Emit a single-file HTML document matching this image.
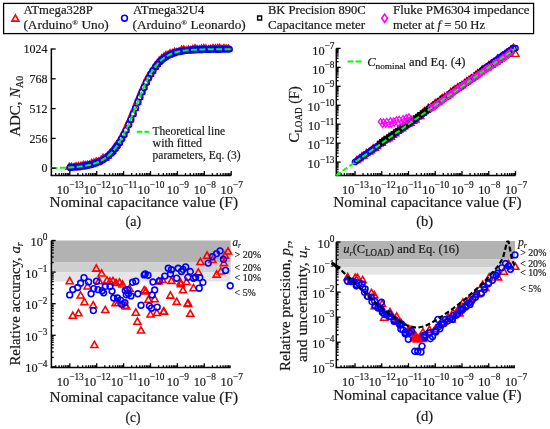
<!DOCTYPE html>
<html><head><meta charset="utf-8"><style>
html,body{margin:0;padding:0;background:#fff;}
svg{display:block;}
text{font-family:'Liberation Serif', serif;fill:#1a1a1a;stroke:#1a1a1a;stroke-width:0.2px;}
</style></head><body>
<svg width="550" height="429" viewBox="0 0 550 429">
<rect width="550" height="429" fill="#fff"/>
<rect x="3.6" y="3.4" width="530" height="30.2" fill="none" stroke="#000" stroke-width="1.3"/>
<path d="M15.4 14.88L18.9 21.08L11.9 21.08Z" fill="none" stroke="#f00" stroke-width="1.6"/>
<path d="M121.6 18.2a2.9 2.9 0 1 0 5.8 0a2.9 2.9 0 1 0 -5.8 0" fill="none" stroke="#00f" stroke-width="1.6"/>
<path d="M257.6 16h4v4h-4Z" fill="none" stroke="#000" stroke-width="1.4"/>
<path d="M384.6 14.1l2.95 4.1l-2.95 4.1l-2.95 -4.1Z" fill="none" stroke="#f0f" stroke-width="1.6"/>
<text x="23.4" y="14.3" font-size="12.2" textLength="69.4" lengthAdjust="spacingAndGlyphs">ATmega328P</text>
<text x="23.4" y="28.9" font-size="12.2" textLength="85.4" lengthAdjust="spacingAndGlyphs">(Arduino<tspan font-size="7" dy="-4.2" stroke-width="0.1">®</tspan><tspan dy="4.2"> Uno)</tspan></text>
<text x="132.9" y="14.3" font-size="12.2" textLength="71.4" lengthAdjust="spacingAndGlyphs">ATmega32U4</text>
<text x="132.6" y="28.9" font-size="12.2" textLength="113.2" lengthAdjust="spacingAndGlyphs">(Arduino<tspan font-size="7" dy="-4.2" stroke-width="0.1">®</tspan><tspan dy="4.2"> Leonardo)</tspan></text>
<text x="268" y="14.3" font-size="12.2" textLength="97.6" lengthAdjust="spacingAndGlyphs">BK Precision 890C</text>
<text x="268" y="28.9" font-size="12.2" textLength="97.2" lengthAdjust="spacingAndGlyphs">Capacitance meter</text>
<text x="393" y="14.3" font-size="12.2" textLength="136.6" lengthAdjust="spacingAndGlyphs">Fluke PM6304 impedance</text>
<text x="393" y="28.9" font-size="12.2" textLength="92.2" lengthAdjust="spacingAndGlyphs">meter at <tspan font-style="italic">f</tspan> = 50 Hz</text>
<line x1="51.35" y1="48.4" x2="51.35" y2="176" stroke="#000" stroke-width="1.5"/>
<line x1="51.35" y1="168.2" x2="55.65" y2="168.2" stroke="#000" stroke-width="1.3"/>
<text x="47.6" y="172.4" font-size="12" text-anchor="end">0</text>
<line x1="51.35" y1="138.4" x2="55.65" y2="138.4" stroke="#000" stroke-width="1.3"/>
<text x="47.6" y="142.6" font-size="12" text-anchor="end">256</text>
<line x1="51.35" y1="108.6" x2="55.65" y2="108.6" stroke="#000" stroke-width="1.3"/>
<text x="47.6" y="112.8" font-size="12" text-anchor="end">512</text>
<line x1="51.35" y1="78.8" x2="55.65" y2="78.8" stroke="#000" stroke-width="1.3"/>
<text x="47.6" y="83" font-size="12" text-anchor="end">768</text>
<line x1="51.35" y1="49" x2="55.65" y2="49" stroke="#000" stroke-width="1.3"/>
<text x="47.6" y="53.2" font-size="12" text-anchor="end">1024</text>
<line x1="50.75" y1="175.4" x2="231.2" y2="175.4" stroke="#000" stroke-width="1.5"/>
<line x1="55.73" y1="175.4" x2="55.73" y2="173.1" stroke="#000" stroke-width="1.3"/>
<line x1="59.1" y1="175.4" x2="59.1" y2="173.1" stroke="#000" stroke-width="1.3"/>
<line x1="61.7" y1="175.4" x2="61.7" y2="173.1" stroke="#000" stroke-width="1.3"/>
<line x1="63.83" y1="175.4" x2="63.83" y2="173.1" stroke="#000" stroke-width="1.3"/>
<line x1="65.63" y1="175.4" x2="65.63" y2="173.1" stroke="#000" stroke-width="1.3"/>
<line x1="67.19" y1="175.4" x2="67.19" y2="173.1" stroke="#000" stroke-width="1.3"/>
<line x1="68.57" y1="175.4" x2="68.57" y2="173.1" stroke="#000" stroke-width="1.3"/>
<line x1="69.8" y1="175.4" x2="69.8" y2="171.1" stroke="#000" stroke-width="1.3"/>
<line x1="77.9" y1="175.4" x2="77.9" y2="173.1" stroke="#000" stroke-width="1.3"/>
<line x1="82.63" y1="175.4" x2="82.63" y2="173.1" stroke="#000" stroke-width="1.3"/>
<line x1="86" y1="175.4" x2="86" y2="173.1" stroke="#000" stroke-width="1.3"/>
<line x1="88.6" y1="175.4" x2="88.6" y2="173.1" stroke="#000" stroke-width="1.3"/>
<line x1="90.73" y1="175.4" x2="90.73" y2="173.1" stroke="#000" stroke-width="1.3"/>
<line x1="92.53" y1="175.4" x2="92.53" y2="173.1" stroke="#000" stroke-width="1.3"/>
<line x1="94.09" y1="175.4" x2="94.09" y2="173.1" stroke="#000" stroke-width="1.3"/>
<line x1="95.47" y1="175.4" x2="95.47" y2="173.1" stroke="#000" stroke-width="1.3"/>
<line x1="96.7" y1="175.4" x2="96.7" y2="171.1" stroke="#000" stroke-width="1.3"/>
<line x1="104.8" y1="175.4" x2="104.8" y2="173.1" stroke="#000" stroke-width="1.3"/>
<line x1="109.53" y1="175.4" x2="109.53" y2="173.1" stroke="#000" stroke-width="1.3"/>
<line x1="112.9" y1="175.4" x2="112.9" y2="173.1" stroke="#000" stroke-width="1.3"/>
<line x1="115.5" y1="175.4" x2="115.5" y2="173.1" stroke="#000" stroke-width="1.3"/>
<line x1="117.63" y1="175.4" x2="117.63" y2="173.1" stroke="#000" stroke-width="1.3"/>
<line x1="119.43" y1="175.4" x2="119.43" y2="173.1" stroke="#000" stroke-width="1.3"/>
<line x1="120.99" y1="175.4" x2="120.99" y2="173.1" stroke="#000" stroke-width="1.3"/>
<line x1="122.37" y1="175.4" x2="122.37" y2="173.1" stroke="#000" stroke-width="1.3"/>
<line x1="123.6" y1="175.4" x2="123.6" y2="171.1" stroke="#000" stroke-width="1.3"/>
<line x1="131.7" y1="175.4" x2="131.7" y2="173.1" stroke="#000" stroke-width="1.3"/>
<line x1="136.43" y1="175.4" x2="136.43" y2="173.1" stroke="#000" stroke-width="1.3"/>
<line x1="139.8" y1="175.4" x2="139.8" y2="173.1" stroke="#000" stroke-width="1.3"/>
<line x1="142.4" y1="175.4" x2="142.4" y2="173.1" stroke="#000" stroke-width="1.3"/>
<line x1="144.53" y1="175.4" x2="144.53" y2="173.1" stroke="#000" stroke-width="1.3"/>
<line x1="146.33" y1="175.4" x2="146.33" y2="173.1" stroke="#000" stroke-width="1.3"/>
<line x1="147.89" y1="175.4" x2="147.89" y2="173.1" stroke="#000" stroke-width="1.3"/>
<line x1="149.27" y1="175.4" x2="149.27" y2="173.1" stroke="#000" stroke-width="1.3"/>
<line x1="150.5" y1="175.4" x2="150.5" y2="171.1" stroke="#000" stroke-width="1.3"/>
<line x1="158.6" y1="175.4" x2="158.6" y2="173.1" stroke="#000" stroke-width="1.3"/>
<line x1="163.33" y1="175.4" x2="163.33" y2="173.1" stroke="#000" stroke-width="1.3"/>
<line x1="166.7" y1="175.4" x2="166.7" y2="173.1" stroke="#000" stroke-width="1.3"/>
<line x1="169.3" y1="175.4" x2="169.3" y2="173.1" stroke="#000" stroke-width="1.3"/>
<line x1="171.43" y1="175.4" x2="171.43" y2="173.1" stroke="#000" stroke-width="1.3"/>
<line x1="173.23" y1="175.4" x2="173.23" y2="173.1" stroke="#000" stroke-width="1.3"/>
<line x1="174.79" y1="175.4" x2="174.79" y2="173.1" stroke="#000" stroke-width="1.3"/>
<line x1="176.17" y1="175.4" x2="176.17" y2="173.1" stroke="#000" stroke-width="1.3"/>
<line x1="177.4" y1="175.4" x2="177.4" y2="171.1" stroke="#000" stroke-width="1.3"/>
<line x1="185.5" y1="175.4" x2="185.5" y2="173.1" stroke="#000" stroke-width="1.3"/>
<line x1="190.23" y1="175.4" x2="190.23" y2="173.1" stroke="#000" stroke-width="1.3"/>
<line x1="193.6" y1="175.4" x2="193.6" y2="173.1" stroke="#000" stroke-width="1.3"/>
<line x1="196.2" y1="175.4" x2="196.2" y2="173.1" stroke="#000" stroke-width="1.3"/>
<line x1="198.33" y1="175.4" x2="198.33" y2="173.1" stroke="#000" stroke-width="1.3"/>
<line x1="200.13" y1="175.4" x2="200.13" y2="173.1" stroke="#000" stroke-width="1.3"/>
<line x1="201.69" y1="175.4" x2="201.69" y2="173.1" stroke="#000" stroke-width="1.3"/>
<line x1="203.07" y1="175.4" x2="203.07" y2="173.1" stroke="#000" stroke-width="1.3"/>
<line x1="204.3" y1="175.4" x2="204.3" y2="171.1" stroke="#000" stroke-width="1.3"/>
<line x1="212.4" y1="175.4" x2="212.4" y2="173.1" stroke="#000" stroke-width="1.3"/>
<line x1="217.13" y1="175.4" x2="217.13" y2="173.1" stroke="#000" stroke-width="1.3"/>
<line x1="220.5" y1="175.4" x2="220.5" y2="173.1" stroke="#000" stroke-width="1.3"/>
<line x1="223.1" y1="175.4" x2="223.1" y2="173.1" stroke="#000" stroke-width="1.3"/>
<line x1="225.23" y1="175.4" x2="225.23" y2="173.1" stroke="#000" stroke-width="1.3"/>
<line x1="227.03" y1="175.4" x2="227.03" y2="173.1" stroke="#000" stroke-width="1.3"/>
<line x1="228.59" y1="175.4" x2="228.59" y2="173.1" stroke="#000" stroke-width="1.3"/>
<line x1="229.97" y1="175.4" x2="229.97" y2="173.1" stroke="#000" stroke-width="1.3"/>
<line x1="231.2" y1="175.4" x2="231.2" y2="171.1" stroke="#000" stroke-width="1.3"/>
<text x="70.3" y="193.8" font-size="12.3" text-anchor="middle">10<tspan font-size="9.35" dy="-5.6">−13</tspan></text>
<text x="97.2" y="193.8" font-size="12.3" text-anchor="middle">10<tspan font-size="9.35" dy="-5.6">−12</tspan></text>
<text x="124.1" y="193.8" font-size="12.3" text-anchor="middle">10<tspan font-size="9.35" dy="-5.6">−11</tspan></text>
<text x="151" y="193.8" font-size="12.3" text-anchor="middle">10<tspan font-size="9.35" dy="-5.6">−10</tspan></text>
<text x="177.9" y="193.8" font-size="12.3" text-anchor="middle">10<tspan font-size="9.35" dy="-5.6">−9</tspan></text>
<text x="204.8" y="193.8" font-size="12.3" text-anchor="middle">10<tspan font-size="9.35" dy="-5.6">−8</tspan></text>
<text x="231.7" y="193.8" font-size="12.3" text-anchor="middle">10<tspan font-size="9.35" dy="-5.6">−7</tspan></text>
<path d="M69.3 162.99L72.8 169.19L65.8 169.19ZM71.43 163.02L74.93 169.22L67.93 169.22ZM74.04 163.37L77.54 169.57L70.54 169.57ZM76.17 162.5L79.67 168.7L72.67 168.7ZM78.51 162.32L82.01 168.52L75.01 168.52ZM80.9 162.15L84.4 168.35L77.4 168.35ZM83.25 161.21L86.75 167.41L79.75 167.41ZM85.2 161.37L88.7 167.57L81.7 167.57ZM87.38 161.12L90.88 167.32L83.88 167.32ZM89.43 160.89L92.93 167.09L85.93 167.09ZM91.69 159.24L95.19 165.44L88.19 165.44ZM93.88 158.87L97.38 165.07L90.38 165.07ZM96.2 157.7L99.7 163.9L92.7 163.9ZM98.33 157.87L101.83 164.07L94.83 164.07ZM100.94 156.38L104.44 162.58L97.44 162.58ZM103.07 154.15L106.57 160.35L99.57 160.35ZM105.41 153.95L108.91 160.15L101.91 160.15ZM107.8 152L111.3 158.2L104.3 158.2ZM110.15 149.36L113.65 155.56L106.65 155.56ZM112.1 147.23L115.6 153.43L108.6 153.43ZM114.28 143.93L117.78 150.13L110.78 150.13ZM116.33 140.97L119.83 147.17L112.83 147.17ZM118.59 138.31L122.09 144.51L115.09 144.51ZM120.78 133.94L124.28 140.14L117.28 140.14ZM123.1 129.83L126.6 136.03L119.6 136.03ZM125.23 125.6L128.73 131.8L121.73 131.8ZM127.84 119.58L131.34 125.78L124.34 125.78ZM129.97 115.28L133.47 121.48L126.47 121.48ZM132.31 109.55L135.81 115.75L128.81 115.75ZM134.7 104.2L138.2 110.4L131.2 110.4ZM137.05 97.84L140.55 104.04L133.55 104.04ZM139 93.19L142.5 99.39L135.5 99.39ZM141.18 87.74L144.68 93.94L137.68 93.94ZM143.23 83.26L146.73 89.46L139.73 89.46ZM145.49 78.04L148.99 84.24L141.99 84.24ZM147.68 73.39L151.18 79.59L144.18 79.59ZM150 70.26L153.5 76.46L146.5 76.46ZM152.13 66.78L155.63 72.98L148.63 72.98ZM154.74 62.82L158.24 69.02L151.24 69.02ZM156.87 59.98L160.37 66.18L153.37 66.18ZM159.21 56.88L162.71 63.08L155.71 63.08ZM161.6 54.58L165.1 60.78L158.1 60.78ZM163.95 52.88L167.45 59.08L160.45 59.08ZM165.9 51.28L169.4 57.48L162.4 57.48ZM168.08 51.12L171.58 57.32L164.58 57.32ZM170.13 49.61L173.63 55.81L166.63 55.81ZM172.39 49.39L175.89 55.59L168.89 55.59ZM174.58 47.99L178.08 54.19L171.08 54.19ZM176.9 48.22L180.4 54.42L173.4 54.42ZM179.03 47.58L182.53 53.78L175.53 53.78ZM181.64 45.83L185.14 52.03L178.14 52.03ZM183.77 45.83L187.27 52.03L180.27 52.03ZM186.11 46.6L189.61 52.8L182.61 52.8ZM188.5 45.7L192 51.9L185 51.9ZM190.85 46.28L194.35 52.48L187.35 52.48ZM192.8 45.27L196.3 51.47L189.3 51.47ZM194.98 44.67L198.48 50.87L191.48 50.87ZM197.03 45.41L200.53 51.61L193.53 51.61ZM199.29 45.55L202.79 51.75L195.79 51.75ZM201.48 44.71L204.98 50.91L197.98 50.91ZM203.8 44.38L207.3 50.58L200.3 50.58ZM205.93 44.71L209.43 50.91L202.43 50.91ZM208.54 45.61L212.04 51.81L205.04 51.81ZM210.67 45.27L214.17 51.47L207.17 51.47ZM213.01 44.28L216.51 50.48L209.51 50.48ZM215.4 44.46L218.9 50.66L211.9 50.66ZM217.75 44.22L221.25 50.42L214.25 50.42ZM219.7 44.15L223.2 50.35L216.2 50.35ZM221.88 45.24L225.38 51.44L218.38 51.44ZM223.93 44.3L227.43 50.5L220.43 50.5ZM226.19 44.87L229.69 51.07L222.69 51.07ZM228.38 44.7L231.88 50.9L224.88 50.9Z" fill="none" stroke="#f00" stroke-width="1.3"/>
<path d="M67.3 167.43a2.9 2.9 0 1 0 5.8 0a2.9 2.9 0 1 0 -5.8 0M69.43 167.3a2.9 2.9 0 1 0 5.8 0a2.9 2.9 0 1 0 -5.8 0M72.04 167.11a2.9 2.9 0 1 0 5.8 0a2.9 2.9 0 1 0 -5.8 0M74.17 166.92a2.9 2.9 0 1 0 5.8 0a2.9 2.9 0 1 0 -5.8 0M76.51 166.68a2.9 2.9 0 1 0 5.8 0a2.9 2.9 0 1 0 -5.8 0M78.9 166.39a2.9 2.9 0 1 0 5.8 0a2.9 2.9 0 1 0 -5.8 0M81.25 166.05a2.9 2.9 0 1 0 5.8 0a2.9 2.9 0 1 0 -5.8 0M83.2 165.72a2.9 2.9 0 1 0 5.8 0a2.9 2.9 0 1 0 -5.8 0M85.38 165.29a2.9 2.9 0 1 0 5.8 0a2.9 2.9 0 1 0 -5.8 0M87.43 164.82a2.9 2.9 0 1 0 5.8 0a2.9 2.9 0 1 0 -5.8 0M89.69 164.22a2.9 2.9 0 1 0 5.8 0a2.9 2.9 0 1 0 -5.8 0M91.88 163.54a2.9 2.9 0 1 0 5.8 0a2.9 2.9 0 1 0 -5.8 0M94.2 162.69a2.9 2.9 0 1 0 5.8 0a2.9 2.9 0 1 0 -5.8 0M96.33 161.78a2.9 2.9 0 1 0 5.8 0a2.9 2.9 0 1 0 -5.8 0M98.94 160.46a2.9 2.9 0 1 0 5.8 0a2.9 2.9 0 1 0 -5.8 0M101.07 159.2a2.9 2.9 0 1 0 5.8 0a2.9 2.9 0 1 0 -5.8 0M103.41 157.59a2.9 2.9 0 1 0 5.8 0a2.9 2.9 0 1 0 -5.8 0M105.8 155.68a2.9 2.9 0 1 0 5.8 0a2.9 2.9 0 1 0 -5.8 0M108.15 153.5a2.9 2.9 0 1 0 5.8 0a2.9 2.9 0 1 0 -5.8 0M110.1 151.43a2.9 2.9 0 1 0 5.8 0a2.9 2.9 0 1 0 -5.8 0M112.28 148.82a2.9 2.9 0 1 0 5.8 0a2.9 2.9 0 1 0 -5.8 0M114.33 146.06a2.9 2.9 0 1 0 5.8 0a2.9 2.9 0 1 0 -5.8 0M116.59 142.64a2.9 2.9 0 1 0 5.8 0a2.9 2.9 0 1 0 -5.8 0M118.78 138.97a2.9 2.9 0 1 0 5.8 0a2.9 2.9 0 1 0 -5.8 0M121.1 134.66a2.9 2.9 0 1 0 5.8 0a2.9 2.9 0 1 0 -5.8 0M123.23 130.35a2.9 2.9 0 1 0 5.8 0a2.9 2.9 0 1 0 -5.8 0M125.84 124.65a2.9 2.9 0 1 0 5.8 0a2.9 2.9 0 1 0 -5.8 0M127.97 119.7a2.9 2.9 0 1 0 5.8 0a2.9 2.9 0 1 0 -5.8 0M130.31 114.01a2.9 2.9 0 1 0 5.8 0a2.9 2.9 0 1 0 -5.8 0M132.7 108.06a2.9 2.9 0 1 0 5.8 0a2.9 2.9 0 1 0 -5.8 0M135.05 102.19a2.9 2.9 0 1 0 5.8 0a2.9 2.9 0 1 0 -5.8 0M137 97.35a2.9 2.9 0 1 0 5.8 0a2.9 2.9 0 1 0 -5.8 0M139.18 92.11a2.9 2.9 0 1 0 5.8 0a2.9 2.9 0 1 0 -5.8 0M141.23 87.39a2.9 2.9 0 1 0 5.8 0a2.9 2.9 0 1 0 -5.8 0M143.49 82.47a2.9 2.9 0 1 0 5.8 0a2.9 2.9 0 1 0 -5.8 0M145.68 78.1a2.9 2.9 0 1 0 5.8 0a2.9 2.9 0 1 0 -5.8 0M148 73.88a2.9 2.9 0 1 0 5.8 0a2.9 2.9 0 1 0 -5.8 0M150.13 70.41a2.9 2.9 0 1 0 5.8 0a2.9 2.9 0 1 0 -5.8 0M152.74 66.68a2.9 2.9 0 1 0 5.8 0a2.9 2.9 0 1 0 -5.8 0M154.87 64.04a2.9 2.9 0 1 0 5.8 0a2.9 2.9 0 1 0 -5.8 0M157.21 61.53a2.9 2.9 0 1 0 5.8 0a2.9 2.9 0 1 0 -5.8 0M159.6 59.36a2.9 2.9 0 1 0 5.8 0a2.9 2.9 0 1 0 -5.8 0M161.95 57.56a2.9 2.9 0 1 0 5.8 0a2.9 2.9 0 1 0 -5.8 0M163.9 56.3a2.9 2.9 0 1 0 5.8 0a2.9 2.9 0 1 0 -5.8 0M166.08 55.09a2.9 2.9 0 1 0 5.8 0a2.9 2.9 0 1 0 -5.8 0M168.13 54.13a2.9 2.9 0 1 0 5.8 0a2.9 2.9 0 1 0 -5.8 0M170.39 53.24a2.9 2.9 0 1 0 5.8 0a2.9 2.9 0 1 0 -5.8 0M172.58 52.53a2.9 2.9 0 1 0 5.8 0a2.9 2.9 0 1 0 -5.8 0M174.9 51.9a2.9 2.9 0 1 0 5.8 0a2.9 2.9 0 1 0 -5.8 0M177.03 51.43a2.9 2.9 0 1 0 5.8 0a2.9 2.9 0 1 0 -5.8 0M179.64 50.95a2.9 2.9 0 1 0 5.8 0a2.9 2.9 0 1 0 -5.8 0M181.77 50.64a2.9 2.9 0 1 0 5.8 0a2.9 2.9 0 1 0 -5.8 0M184.11 50.35a2.9 2.9 0 1 0 5.8 0a2.9 2.9 0 1 0 -5.8 0M186.5 50.12a2.9 2.9 0 1 0 5.8 0a2.9 2.9 0 1 0 -5.8 0M188.85 49.93a2.9 2.9 0 1 0 5.8 0a2.9 2.9 0 1 0 -5.8 0M190.8 49.8a2.9 2.9 0 1 0 5.8 0a2.9 2.9 0 1 0 -5.8 0M192.98 49.68a2.9 2.9 0 1 0 5.8 0a2.9 2.9 0 1 0 -5.8 0M195.03 49.58a2.9 2.9 0 1 0 5.8 0a2.9 2.9 0 1 0 -5.8 0M197.29 49.5a2.9 2.9 0 1 0 5.8 0a2.9 2.9 0 1 0 -5.8 0M199.48 49.43a2.9 2.9 0 1 0 5.8 0a2.9 2.9 0 1 0 -5.8 0M201.8 49.37a2.9 2.9 0 1 0 5.8 0a2.9 2.9 0 1 0 -5.8 0M203.93 49.33a2.9 2.9 0 1 0 5.8 0a2.9 2.9 0 1 0 -5.8 0M206.54 49.28a2.9 2.9 0 1 0 5.8 0a2.9 2.9 0 1 0 -5.8 0M208.67 49.25a2.9 2.9 0 1 0 5.8 0a2.9 2.9 0 1 0 -5.8 0M211.01 49.23a2.9 2.9 0 1 0 5.8 0a2.9 2.9 0 1 0 -5.8 0M213.4 49.21a2.9 2.9 0 1 0 5.8 0a2.9 2.9 0 1 0 -5.8 0M215.75 49.19a2.9 2.9 0 1 0 5.8 0a2.9 2.9 0 1 0 -5.8 0M217.7 49.18a2.9 2.9 0 1 0 5.8 0a2.9 2.9 0 1 0 -5.8 0M219.88 49.17a2.9 2.9 0 1 0 5.8 0a2.9 2.9 0 1 0 -5.8 0M221.93 49.16a2.9 2.9 0 1 0 5.8 0a2.9 2.9 0 1 0 -5.8 0M224.19 49.15a2.9 2.9 0 1 0 5.8 0a2.9 2.9 0 1 0 -5.8 0M226.38 49.14a2.9 2.9 0 1 0 5.8 0a2.9 2.9 0 1 0 -5.8 0" fill="none" stroke="#00f" stroke-width="1.6"/>
<polyline points="51.51,168 52.05,167.99 52.58,167.98 53.12,167.97 53.66,167.96 54.2,167.95 54.74,167.94 55.27,167.93 55.81,167.92 56.35,167.91 56.89,167.9 57.43,167.89 57.96,167.88 58.5,167.86 59.04,167.85 59.58,167.84 60.12,167.82 60.65,167.81 61.19,167.79 61.73,167.77 62.27,167.76 62.81,167.74 63.34,167.72 63.88,167.7 64.42,167.68 64.96,167.66 65.5,167.64 66.03,167.61 66.57,167.59 67.11,167.57 67.65,167.54 68.19,167.51 68.72,167.49 69.26,167.46 69.8,167.43 70.34,167.4 70.88,167.36 71.41,167.33 71.95,167.29 72.49,167.26 73.03,167.22 73.57,167.18 74.1,167.14 74.64,167.1 75.18,167.05 75.72,167.01 76.26,166.96 76.79,166.91 77.33,166.86 77.87,166.8 78.41,166.75 78.95,166.69 79.48,166.63 80.02,166.56 80.56,166.5 81.1,166.43 81.64,166.36 82.17,166.28 82.71,166.21 83.25,166.13 83.79,166.04 84.33,165.96 84.86,165.87 85.4,165.77 85.94,165.68 86.48,165.57 87.02,165.47 87.55,165.36 88.09,165.25 88.63,165.13 89.17,165 89.71,164.88 90.24,164.74 90.78,164.61 91.32,164.46 91.86,164.31 92.4,164.16 92.93,164 93.47,163.83 94.01,163.66 94.55,163.48 95.09,163.29 95.62,163.1 96.16,162.9 96.7,162.69 97.24,162.47 97.78,162.24 98.31,162.01 98.85,161.77 99.39,161.51 99.93,161.25 100.47,160.98 101,160.7 101.54,160.4 102.08,160.1 102.62,159.79 103.16,159.46 103.69,159.12 104.23,158.77 104.77,158.41 105.31,158.03 105.85,157.64 106.38,157.24 106.92,156.82 107.46,156.39 108,155.94 108.54,155.47 109.07,155 109.61,154.5 110.15,153.99 110.69,153.46 111.23,152.91 111.76,152.34 112.3,151.76 112.84,151.16 113.38,150.53 113.92,149.89 114.45,149.23 114.99,148.55 115.53,147.84 116.07,147.12 116.61,146.37 117.14,145.61 117.68,144.82 118.22,144.01 118.76,143.17 119.3,142.32 119.83,141.44 120.37,140.54 120.91,139.62 121.45,138.67 121.99,137.7 122.52,136.71 123.06,135.7 123.6,134.66 124.14,133.61 124.68,132.53 125.21,131.43 125.75,130.31 126.29,129.17 126.83,128.01 127.37,126.83 127.9,125.63 128.44,124.42 128.98,123.18 129.52,121.94 130.06,120.67 130.59,119.4 131.13,118.11 131.67,116.81 132.21,115.5 132.75,114.17 133.28,112.85 133.82,111.51 134.36,110.17 134.9,108.82 135.44,107.48 135.97,106.13 136.51,104.78 137.05,103.43 137.59,102.09 138.13,100.75 138.66,99.41 139.2,98.08 139.74,96.77 140.28,95.46 140.82,94.16 141.35,92.88 141.89,91.6 142.43,90.35 142.97,89.11 143.51,87.88 144.04,86.68 144.58,85.49 145.12,84.33 145.66,83.18 146.2,82.05 146.73,80.95 147.27,79.87 147.81,78.81 148.35,77.78 148.89,76.77 149.42,75.78 149.96,74.82 150.5,73.88 151.04,72.97 151.58,72.08 152.11,71.21 152.65,70.38 153.19,69.56 153.73,68.77 154.27,68 154.8,67.26 155.34,66.54 155.88,65.85 156.42,65.17 156.96,64.52 157.49,63.9 158.03,63.29 158.57,62.7 159.11,62.14 159.65,61.6 160.18,61.07 160.72,60.57 161.26,60.08 161.8,59.61 162.34,59.17 162.87,58.73 163.41,58.32 163.95,57.92 164.49,57.54 165.03,57.17 165.56,56.82 166.1,56.48 166.64,56.15 167.18,55.84 167.72,55.54 168.25,55.26 168.79,54.98 169.33,54.72 169.87,54.47 170.41,54.23 170.94,54 171.48,53.78 172.02,53.57 172.56,53.36 173.1,53.17 173.63,52.99 174.17,52.81 174.71,52.64 175.25,52.48 175.79,52.33 176.32,52.18 176.86,52.04 177.4,51.9 177.94,51.78 178.48,51.65 179.01,51.54 179.55,51.42 180.09,51.32 180.63,51.22 181.17,51.12 181.7,51.03 182.24,50.94 182.78,50.85 183.32,50.77 183.86,50.69 184.39,50.62 184.93,50.55 185.47,50.48 186.01,50.42 186.55,50.36 187.08,50.3 187.62,50.25 188.16,50.19 188.7,50.14 189.24,50.1 189.77,50.05 190.31,50.01 190.85,49.96 191.39,49.92 191.93,49.89 192.46,49.85 193,49.82 193.54,49.78 194.08,49.75 194.62,49.72 195.15,49.69 195.69,49.67 196.23,49.64 196.77,49.62 197.31,49.59 197.84,49.57 198.38,49.55 198.92,49.53 199.46,49.51 200,49.49 200.53,49.47 201.07,49.46 201.61,49.44 202.15,49.43 202.69,49.41 203.22,49.4 203.76,49.38 204.3,49.37 204.84,49.36 205.38,49.35 205.91,49.34 206.45,49.33 206.99,49.32 207.53,49.31 208.07,49.3 208.6,49.29 209.14,49.28 209.68,49.27 210.22,49.27 210.76,49.26 211.29,49.25 211.83,49.25 212.37,49.24 212.91,49.23 213.45,49.23 213.98,49.22 214.52,49.22 215.06,49.21 215.6,49.21 216.14,49.2 216.67,49.2 217.21,49.2 217.75,49.19 218.29,49.19 218.83,49.19 219.36,49.18 219.9,49.18 220.44,49.18 220.98,49.17 221.52,49.17 222.05,49.17 222.59,49.17 223.13,49.16 223.67,49.16 224.21,49.16 224.74,49.16 225.28,49.16 225.82,49.15 226.36,49.15 226.9,49.15 227.43,49.15 227.97,49.15 228.51,49.15 229.05,49.14 229.59,49.14 230.12,49.14 230.66,49.14 231.2,49.14" fill="none" stroke="#0f0" stroke-width="2" stroke-dasharray="6,2.4"/>
<line x1="51.35" y1="168.2" x2="55.65" y2="168.2" stroke="#000" stroke-width="1.3"/>
<line x1="136.8" y1="131.8" x2="142.3" y2="131.8" stroke="#0f0" stroke-width="2"/>
<line x1="144.4" y1="131.8" x2="149.1" y2="131.8" stroke="#0f0" stroke-width="2"/>
<text x="152.6" y="134.9" font-size="12" textLength="72.4" lengthAdjust="spacingAndGlyphs">Theoretical line</text>
<text x="152.6" y="147.3" font-size="12" textLength="49.3" lengthAdjust="spacingAndGlyphs">with fitted</text>
<text x="152.6" y="159.3" font-size="12" textLength="88" lengthAdjust="spacingAndGlyphs">parameters, Eq. (3)</text>
<text x="49.6" y="207" font-size="15" textLength="188.4" lengthAdjust="spacingAndGlyphs">Nominal capacitance value (F)</text>
<text x="125.6" y="225.5" font-size="15" textLength="15.6" lengthAdjust="spacingAndGlyphs">(a)</text>
<text transform="translate(20,136.6) rotate(-90)" font-size="15" textLength="60.8" lengthAdjust="spacingAndGlyphs">ADC, <tspan font-style="italic">N</tspan><tspan font-size="10" dy="2.8">A0</tspan></text>
<line x1="336.3" y1="48.4" x2="336.3" y2="176" stroke="#000" stroke-width="1.5"/>
<line x1="336.3" y1="172.01" x2="338.6" y2="172.01" stroke="#000" stroke-width="1.3"/>
<line x1="336.3" y1="169.64" x2="338.6" y2="169.64" stroke="#000" stroke-width="1.3"/>
<line x1="336.3" y1="167.8" x2="338.6" y2="167.8" stroke="#000" stroke-width="1.3"/>
<line x1="336.3" y1="166.3" x2="338.6" y2="166.3" stroke="#000" stroke-width="1.3"/>
<line x1="336.3" y1="165.04" x2="338.6" y2="165.04" stroke="#000" stroke-width="1.3"/>
<line x1="336.3" y1="163.94" x2="338.6" y2="163.94" stroke="#000" stroke-width="1.3"/>
<line x1="336.3" y1="162.97" x2="338.6" y2="162.97" stroke="#000" stroke-width="1.3"/>
<line x1="336.3" y1="162.1" x2="340.6" y2="162.1" stroke="#000" stroke-width="1.3"/>
<line x1="336.3" y1="156.4" x2="338.6" y2="156.4" stroke="#000" stroke-width="1.3"/>
<line x1="336.3" y1="153.06" x2="338.6" y2="153.06" stroke="#000" stroke-width="1.3"/>
<line x1="336.3" y1="150.69" x2="338.6" y2="150.69" stroke="#000" stroke-width="1.3"/>
<line x1="336.3" y1="148.85" x2="338.6" y2="148.85" stroke="#000" stroke-width="1.3"/>
<line x1="336.3" y1="147.35" x2="338.6" y2="147.35" stroke="#000" stroke-width="1.3"/>
<line x1="336.3" y1="146.09" x2="338.6" y2="146.09" stroke="#000" stroke-width="1.3"/>
<line x1="336.3" y1="144.99" x2="338.6" y2="144.99" stroke="#000" stroke-width="1.3"/>
<line x1="336.3" y1="144.02" x2="338.6" y2="144.02" stroke="#000" stroke-width="1.3"/>
<line x1="336.3" y1="143.15" x2="340.6" y2="143.15" stroke="#000" stroke-width="1.3"/>
<line x1="336.3" y1="137.45" x2="338.6" y2="137.45" stroke="#000" stroke-width="1.3"/>
<line x1="336.3" y1="134.11" x2="338.6" y2="134.11" stroke="#000" stroke-width="1.3"/>
<line x1="336.3" y1="131.74" x2="338.6" y2="131.74" stroke="#000" stroke-width="1.3"/>
<line x1="336.3" y1="129.9" x2="338.6" y2="129.9" stroke="#000" stroke-width="1.3"/>
<line x1="336.3" y1="128.4" x2="338.6" y2="128.4" stroke="#000" stroke-width="1.3"/>
<line x1="336.3" y1="127.14" x2="338.6" y2="127.14" stroke="#000" stroke-width="1.3"/>
<line x1="336.3" y1="126.04" x2="338.6" y2="126.04" stroke="#000" stroke-width="1.3"/>
<line x1="336.3" y1="125.07" x2="338.6" y2="125.07" stroke="#000" stroke-width="1.3"/>
<line x1="336.3" y1="124.2" x2="340.6" y2="124.2" stroke="#000" stroke-width="1.3"/>
<line x1="336.3" y1="118.5" x2="338.6" y2="118.5" stroke="#000" stroke-width="1.3"/>
<line x1="336.3" y1="115.16" x2="338.6" y2="115.16" stroke="#000" stroke-width="1.3"/>
<line x1="336.3" y1="112.79" x2="338.6" y2="112.79" stroke="#000" stroke-width="1.3"/>
<line x1="336.3" y1="110.95" x2="338.6" y2="110.95" stroke="#000" stroke-width="1.3"/>
<line x1="336.3" y1="109.45" x2="338.6" y2="109.45" stroke="#000" stroke-width="1.3"/>
<line x1="336.3" y1="108.19" x2="338.6" y2="108.19" stroke="#000" stroke-width="1.3"/>
<line x1="336.3" y1="107.09" x2="338.6" y2="107.09" stroke="#000" stroke-width="1.3"/>
<line x1="336.3" y1="106.12" x2="338.6" y2="106.12" stroke="#000" stroke-width="1.3"/>
<line x1="336.3" y1="105.25" x2="340.6" y2="105.25" stroke="#000" stroke-width="1.3"/>
<line x1="336.3" y1="99.55" x2="338.6" y2="99.55" stroke="#000" stroke-width="1.3"/>
<line x1="336.3" y1="96.21" x2="338.6" y2="96.21" stroke="#000" stroke-width="1.3"/>
<line x1="336.3" y1="93.84" x2="338.6" y2="93.84" stroke="#000" stroke-width="1.3"/>
<line x1="336.3" y1="92" x2="338.6" y2="92" stroke="#000" stroke-width="1.3"/>
<line x1="336.3" y1="90.5" x2="338.6" y2="90.5" stroke="#000" stroke-width="1.3"/>
<line x1="336.3" y1="89.24" x2="338.6" y2="89.24" stroke="#000" stroke-width="1.3"/>
<line x1="336.3" y1="88.14" x2="338.6" y2="88.14" stroke="#000" stroke-width="1.3"/>
<line x1="336.3" y1="87.17" x2="338.6" y2="87.17" stroke="#000" stroke-width="1.3"/>
<line x1="336.3" y1="86.3" x2="340.6" y2="86.3" stroke="#000" stroke-width="1.3"/>
<line x1="336.3" y1="80.6" x2="338.6" y2="80.6" stroke="#000" stroke-width="1.3"/>
<line x1="336.3" y1="77.26" x2="338.6" y2="77.26" stroke="#000" stroke-width="1.3"/>
<line x1="336.3" y1="74.89" x2="338.6" y2="74.89" stroke="#000" stroke-width="1.3"/>
<line x1="336.3" y1="73.05" x2="338.6" y2="73.05" stroke="#000" stroke-width="1.3"/>
<line x1="336.3" y1="71.55" x2="338.6" y2="71.55" stroke="#000" stroke-width="1.3"/>
<line x1="336.3" y1="70.29" x2="338.6" y2="70.29" stroke="#000" stroke-width="1.3"/>
<line x1="336.3" y1="69.19" x2="338.6" y2="69.19" stroke="#000" stroke-width="1.3"/>
<line x1="336.3" y1="68.22" x2="338.6" y2="68.22" stroke="#000" stroke-width="1.3"/>
<line x1="336.3" y1="67.35" x2="340.6" y2="67.35" stroke="#000" stroke-width="1.3"/>
<line x1="336.3" y1="61.65" x2="338.6" y2="61.65" stroke="#000" stroke-width="1.3"/>
<line x1="336.3" y1="58.31" x2="338.6" y2="58.31" stroke="#000" stroke-width="1.3"/>
<line x1="336.3" y1="55.94" x2="338.6" y2="55.94" stroke="#000" stroke-width="1.3"/>
<line x1="336.3" y1="54.1" x2="338.6" y2="54.1" stroke="#000" stroke-width="1.3"/>
<line x1="336.3" y1="52.6" x2="338.6" y2="52.6" stroke="#000" stroke-width="1.3"/>
<line x1="336.3" y1="51.34" x2="338.6" y2="51.34" stroke="#000" stroke-width="1.3"/>
<line x1="336.3" y1="50.24" x2="338.6" y2="50.24" stroke="#000" stroke-width="1.3"/>
<line x1="336.3" y1="49.27" x2="338.6" y2="49.27" stroke="#000" stroke-width="1.3"/>
<line x1="336.3" y1="48.4" x2="340.6" y2="48.4" stroke="#000" stroke-width="1.3"/>
<text x="334.5" y="168.3" font-size="12.3" text-anchor="end">10<tspan font-size="9.35" dy="-5.6">−13</tspan></text>
<text x="334.5" y="149.35" font-size="12.3" text-anchor="end">10<tspan font-size="9.35" dy="-5.6">−12</tspan></text>
<text x="334.5" y="130.4" font-size="12.3" text-anchor="end">10<tspan font-size="9.35" dy="-5.6">−11</tspan></text>
<text x="334.5" y="111.45" font-size="12.3" text-anchor="end">10<tspan font-size="9.35" dy="-5.6">−10</tspan></text>
<text x="334.5" y="92.5" font-size="12.3" text-anchor="end">10<tspan font-size="9.35" dy="-5.6">−9</tspan></text>
<text x="334.5" y="73.55" font-size="12.3" text-anchor="end">10<tspan font-size="9.35" dy="-5.6">−8</tspan></text>
<text x="334.5" y="54.6" font-size="12.3" text-anchor="end">10<tspan font-size="9.35" dy="-5.6">−7</tspan></text>
<line x1="335.7" y1="175.4" x2="515.5" y2="175.4" stroke="#000" stroke-width="1.5"/>
<line x1="341.01" y1="175.4" x2="341.01" y2="173.1" stroke="#000" stroke-width="1.3"/>
<line x1="344.36" y1="175.4" x2="344.36" y2="173.1" stroke="#000" stroke-width="1.3"/>
<line x1="346.95" y1="175.4" x2="346.95" y2="173.1" stroke="#000" stroke-width="1.3"/>
<line x1="349.07" y1="175.4" x2="349.07" y2="173.1" stroke="#000" stroke-width="1.3"/>
<line x1="350.86" y1="175.4" x2="350.86" y2="173.1" stroke="#000" stroke-width="1.3"/>
<line x1="352.41" y1="175.4" x2="352.41" y2="173.1" stroke="#000" stroke-width="1.3"/>
<line x1="353.78" y1="175.4" x2="353.78" y2="173.1" stroke="#000" stroke-width="1.3"/>
<line x1="355" y1="175.4" x2="355" y2="171.1" stroke="#000" stroke-width="1.3"/>
<line x1="363.05" y1="175.4" x2="363.05" y2="173.1" stroke="#000" stroke-width="1.3"/>
<line x1="367.76" y1="175.4" x2="367.76" y2="173.1" stroke="#000" stroke-width="1.3"/>
<line x1="371.11" y1="175.4" x2="371.11" y2="173.1" stroke="#000" stroke-width="1.3"/>
<line x1="373.7" y1="175.4" x2="373.7" y2="173.1" stroke="#000" stroke-width="1.3"/>
<line x1="375.82" y1="175.4" x2="375.82" y2="173.1" stroke="#000" stroke-width="1.3"/>
<line x1="377.61" y1="175.4" x2="377.61" y2="173.1" stroke="#000" stroke-width="1.3"/>
<line x1="379.16" y1="175.4" x2="379.16" y2="173.1" stroke="#000" stroke-width="1.3"/>
<line x1="380.53" y1="175.4" x2="380.53" y2="173.1" stroke="#000" stroke-width="1.3"/>
<line x1="381.75" y1="175.4" x2="381.75" y2="171.1" stroke="#000" stroke-width="1.3"/>
<line x1="389.8" y1="175.4" x2="389.8" y2="173.1" stroke="#000" stroke-width="1.3"/>
<line x1="394.51" y1="175.4" x2="394.51" y2="173.1" stroke="#000" stroke-width="1.3"/>
<line x1="397.86" y1="175.4" x2="397.86" y2="173.1" stroke="#000" stroke-width="1.3"/>
<line x1="400.45" y1="175.4" x2="400.45" y2="173.1" stroke="#000" stroke-width="1.3"/>
<line x1="402.57" y1="175.4" x2="402.57" y2="173.1" stroke="#000" stroke-width="1.3"/>
<line x1="404.36" y1="175.4" x2="404.36" y2="173.1" stroke="#000" stroke-width="1.3"/>
<line x1="405.91" y1="175.4" x2="405.91" y2="173.1" stroke="#000" stroke-width="1.3"/>
<line x1="407.28" y1="175.4" x2="407.28" y2="173.1" stroke="#000" stroke-width="1.3"/>
<line x1="408.5" y1="175.4" x2="408.5" y2="171.1" stroke="#000" stroke-width="1.3"/>
<line x1="416.55" y1="175.4" x2="416.55" y2="173.1" stroke="#000" stroke-width="1.3"/>
<line x1="421.26" y1="175.4" x2="421.26" y2="173.1" stroke="#000" stroke-width="1.3"/>
<line x1="424.61" y1="175.4" x2="424.61" y2="173.1" stroke="#000" stroke-width="1.3"/>
<line x1="427.2" y1="175.4" x2="427.2" y2="173.1" stroke="#000" stroke-width="1.3"/>
<line x1="429.32" y1="175.4" x2="429.32" y2="173.1" stroke="#000" stroke-width="1.3"/>
<line x1="431.11" y1="175.4" x2="431.11" y2="173.1" stroke="#000" stroke-width="1.3"/>
<line x1="432.66" y1="175.4" x2="432.66" y2="173.1" stroke="#000" stroke-width="1.3"/>
<line x1="434.03" y1="175.4" x2="434.03" y2="173.1" stroke="#000" stroke-width="1.3"/>
<line x1="435.25" y1="175.4" x2="435.25" y2="171.1" stroke="#000" stroke-width="1.3"/>
<line x1="443.3" y1="175.4" x2="443.3" y2="173.1" stroke="#000" stroke-width="1.3"/>
<line x1="448.01" y1="175.4" x2="448.01" y2="173.1" stroke="#000" stroke-width="1.3"/>
<line x1="451.36" y1="175.4" x2="451.36" y2="173.1" stroke="#000" stroke-width="1.3"/>
<line x1="453.95" y1="175.4" x2="453.95" y2="173.1" stroke="#000" stroke-width="1.3"/>
<line x1="456.07" y1="175.4" x2="456.07" y2="173.1" stroke="#000" stroke-width="1.3"/>
<line x1="457.86" y1="175.4" x2="457.86" y2="173.1" stroke="#000" stroke-width="1.3"/>
<line x1="459.41" y1="175.4" x2="459.41" y2="173.1" stroke="#000" stroke-width="1.3"/>
<line x1="460.78" y1="175.4" x2="460.78" y2="173.1" stroke="#000" stroke-width="1.3"/>
<line x1="462" y1="175.4" x2="462" y2="171.1" stroke="#000" stroke-width="1.3"/>
<line x1="470.05" y1="175.4" x2="470.05" y2="173.1" stroke="#000" stroke-width="1.3"/>
<line x1="474.76" y1="175.4" x2="474.76" y2="173.1" stroke="#000" stroke-width="1.3"/>
<line x1="478.11" y1="175.4" x2="478.11" y2="173.1" stroke="#000" stroke-width="1.3"/>
<line x1="480.7" y1="175.4" x2="480.7" y2="173.1" stroke="#000" stroke-width="1.3"/>
<line x1="482.82" y1="175.4" x2="482.82" y2="173.1" stroke="#000" stroke-width="1.3"/>
<line x1="484.61" y1="175.4" x2="484.61" y2="173.1" stroke="#000" stroke-width="1.3"/>
<line x1="486.16" y1="175.4" x2="486.16" y2="173.1" stroke="#000" stroke-width="1.3"/>
<line x1="487.53" y1="175.4" x2="487.53" y2="173.1" stroke="#000" stroke-width="1.3"/>
<line x1="488.75" y1="175.4" x2="488.75" y2="171.1" stroke="#000" stroke-width="1.3"/>
<line x1="496.8" y1="175.4" x2="496.8" y2="173.1" stroke="#000" stroke-width="1.3"/>
<line x1="501.51" y1="175.4" x2="501.51" y2="173.1" stroke="#000" stroke-width="1.3"/>
<line x1="504.86" y1="175.4" x2="504.86" y2="173.1" stroke="#000" stroke-width="1.3"/>
<line x1="507.45" y1="175.4" x2="507.45" y2="173.1" stroke="#000" stroke-width="1.3"/>
<line x1="509.57" y1="175.4" x2="509.57" y2="173.1" stroke="#000" stroke-width="1.3"/>
<line x1="511.36" y1="175.4" x2="511.36" y2="173.1" stroke="#000" stroke-width="1.3"/>
<line x1="512.91" y1="175.4" x2="512.91" y2="173.1" stroke="#000" stroke-width="1.3"/>
<line x1="514.28" y1="175.4" x2="514.28" y2="173.1" stroke="#000" stroke-width="1.3"/>
<line x1="515.5" y1="175.4" x2="515.5" y2="171.1" stroke="#000" stroke-width="1.3"/>
<text x="355.5" y="193.8" font-size="12.3" text-anchor="middle">10<tspan font-size="9.35" dy="-5.6">−13</tspan></text>
<text x="382.25" y="193.8" font-size="12.3" text-anchor="middle">10<tspan font-size="9.35" dy="-5.6">−12</tspan></text>
<text x="409" y="193.8" font-size="12.3" text-anchor="middle">10<tspan font-size="9.35" dy="-5.6">−11</tspan></text>
<text x="435.75" y="193.8" font-size="12.3" text-anchor="middle">10<tspan font-size="9.35" dy="-5.6">−10</tspan></text>
<text x="462.5" y="193.8" font-size="12.3" text-anchor="middle">10<tspan font-size="9.35" dy="-5.6">−9</tspan></text>
<text x="489.25" y="193.8" font-size="12.3" text-anchor="middle">10<tspan font-size="9.35" dy="-5.6">−8</tspan></text>
<text x="516" y="193.8" font-size="12.3" text-anchor="middle">10<tspan font-size="9.35" dy="-5.6">−7</tspan></text>
<text x="333.2" y="207" font-size="15" textLength="188.4" lengthAdjust="spacingAndGlyphs">Nominal capacitance value (F)</text>
<text x="416.2" y="225.5" font-size="15" textLength="17" lengthAdjust="spacingAndGlyphs">(b)</text>
<text transform="translate(299.2,142.4) rotate(-90)" font-size="15" textLength="56.2" lengthAdjust="spacingAndGlyphs">C<tspan font-size="9.5" dy="3.2">LOAD</tspan><tspan dy="-3.2"> (F)</tspan></text>
<path d="M356.86 156.44L360.36 162.64L353.36 162.64ZM359.58 154.69L363.08 160.89L356.08 160.89ZM361.95 152.43L365.45 158.63L358.45 158.63ZM363.67 151.86L367.17 158.06L360.17 158.06ZM366.3 149.33L369.8 155.53L362.8 155.53ZM369.37 148.01L372.87 154.21L365.87 154.21ZM371.15 146.65L374.65 152.85L367.65 152.85ZM373.12 144.65L376.62 150.85L369.62 150.85ZM375.15 144.22L378.65 150.42L371.65 150.42ZM377.29 142.44L380.79 148.64L373.79 148.64ZM379.62 139.95L383.12 146.15L376.12 146.15ZM382.01 139.06L385.51 145.26L378.51 145.26ZM383.67 136.77L387.17 142.97L380.17 142.97ZM386.83 135.55L390.33 141.75L383.33 141.75ZM388.8 134.62L392.3 140.82L385.3 140.82ZM391.12 133.03L394.62 139.23L387.62 139.23ZM393.18 131.18L396.68 137.38L389.68 137.38ZM395.56 129.71L399.06 135.91L392.06 135.91ZM397.94 127.17L401.44 133.37L394.44 133.37ZM399.36 125.8L402.86 132L395.86 132ZM402.23 124.66L405.73 130.86L398.73 130.86ZM404.15 122.88L407.65 129.08L400.65 129.08ZM406.2 121.45L409.7 127.65L402.7 127.65ZM408.35 120.1L411.85 126.3L404.85 126.3ZM410.7 119.05L414.2 125.25L407.2 125.25ZM413.39 117.24L416.89 123.44L409.89 123.44ZM415.68 115.83L419.18 122.03L412.18 122.03ZM417.83 113.02L421.33 119.22L414.33 119.22ZM420.4 112.46L423.9 118.66L416.9 118.66ZM422.77 109.11L426.27 115.31L419.27 115.31ZM424.52 107.24L428.02 113.44L421.02 113.44ZM426.81 106.21L430.31 112.41L423.31 112.41ZM428.3 104.05L431.8 110.25L424.8 110.25ZM431.12 103.75L434.62 109.95L427.62 109.95ZM432.53 101.95L436.03 108.15L429.03 108.15ZM435.16 99.4L438.66 105.6L431.66 105.6ZM437.16 98.77L440.66 104.97L433.66 104.97ZM440.33 95.92L443.83 102.12L436.83 102.12ZM442.19 94.42L445.69 100.62L438.69 100.62ZM444.63 93.17L448.13 99.37L441.13 99.37ZM447.17 92.39L450.67 98.59L443.67 98.59ZM449.13 90.77L452.63 96.97L445.63 96.97ZM450.87 88.1L454.37 94.3L447.37 94.3ZM453.33 86.5L456.83 92.7L449.83 92.7ZM454.96 85.59L458.46 91.79L451.46 91.79ZM457.63 83.64L461.13 89.84L454.13 89.84ZM459.24 83.09L462.74 89.29L455.74 89.29ZM461.81 81.59L465.31 87.79L458.31 87.79ZM464.51 79.27L468.01 85.47L461.01 85.47ZM466.67 77.63L470.17 83.83L463.17 83.83ZM468.97 76.24L472.47 82.44L465.47 82.44ZM471.22 74.62L474.72 80.82L467.72 80.82ZM473.98 72.78L477.48 78.98L470.48 78.98ZM475.8 71.43L479.3 77.63L472.3 77.63ZM477.55 69.46L481.05 75.66L474.05 75.66ZM480.46 68.24L483.96 74.44L476.96 74.44ZM482.06 66.08L485.56 72.28L478.56 72.28ZM484.18 65.28L487.68 71.48L480.68 71.48ZM485.96 63.79L489.46 69.99L482.46 69.99ZM488.88 61.38L492.38 67.58L485.38 67.58ZM491 60.45L494.5 66.65L487.5 66.65ZM493.64 58.45L497.14 64.65L490.14 64.65ZM495.79 57.49L499.29 63.69L492.29 63.69ZM497.43 54.89L500.93 61.09L493.93 61.09ZM500.47 54.47L503.97 60.67L496.97 60.67ZM502.37 52.11L505.87 58.31L498.87 58.31ZM504.65 50.54L508.15 56.74L501.15 56.74ZM506.59 48.99L510.09 55.19L503.09 55.19ZM508.63 47.95L512.13 54.15L505.13 54.15ZM510.82 46.04L514.32 52.24L507.32 52.24ZM513.47 44.01L516.97 50.21L509.97 50.21ZM515.57 50.19L519.07 56.39L512.07 56.39Z" fill="none" stroke="#f00" stroke-width="1.3"/>
<path d="M352.4 161.9a2.6 2.6 0 1 0 5.2 0a2.6 2.6 0 1 0 -5.2 0M354.52 160.4a2.6 2.6 0 1 0 5.2 0a2.6 2.6 0 1 0 -5.2 0M357.11 158.56a2.6 2.6 0 1 0 5.2 0a2.6 2.6 0 1 0 -5.2 0M359.23 157.06a2.6 2.6 0 1 0 5.2 0a2.6 2.6 0 1 0 -5.2 0M361.56 155.41a2.6 2.6 0 1 0 5.2 0a2.6 2.6 0 1 0 -5.2 0M363.94 153.73a2.6 2.6 0 1 0 5.2 0a2.6 2.6 0 1 0 -5.2 0M366.27 152.07a2.6 2.6 0 1 0 5.2 0a2.6 2.6 0 1 0 -5.2 0M368.21 150.7a2.6 2.6 0 1 0 5.2 0a2.6 2.6 0 1 0 -5.2 0M370.38 149.16a2.6 2.6 0 1 0 5.2 0a2.6 2.6 0 1 0 -5.2 0M372.41 147.72a2.6 2.6 0 1 0 5.2 0a2.6 2.6 0 1 0 -5.2 0M374.67 146.12a2.6 2.6 0 1 0 5.2 0a2.6 2.6 0 1 0 -5.2 0M376.84 144.58a2.6 2.6 0 1 0 5.2 0a2.6 2.6 0 1 0 -5.2 0M379.15 142.95a2.6 2.6 0 1 0 5.2 0a2.6 2.6 0 1 0 -5.2 0M381.27 141.45a2.6 2.6 0 1 0 5.2 0a2.6 2.6 0 1 0 -5.2 0M383.86 139.61a2.6 2.6 0 1 0 5.2 0a2.6 2.6 0 1 0 -5.2 0M385.98 138.11a2.6 2.6 0 1 0 5.2 0a2.6 2.6 0 1 0 -5.2 0M388.31 136.46a2.6 2.6 0 1 0 5.2 0a2.6 2.6 0 1 0 -5.2 0M390.69 134.78a2.6 2.6 0 1 0 5.2 0a2.6 2.6 0 1 0 -5.2 0M393.02 133.12a2.6 2.6 0 1 0 5.2 0a2.6 2.6 0 1 0 -5.2 0M394.96 131.75a2.6 2.6 0 1 0 5.2 0a2.6 2.6 0 1 0 -5.2 0M397.13 130.21a2.6 2.6 0 1 0 5.2 0a2.6 2.6 0 1 0 -5.2 0M399.16 128.77a2.6 2.6 0 1 0 5.2 0a2.6 2.6 0 1 0 -5.2 0M401.42 127.17a2.6 2.6 0 1 0 5.2 0a2.6 2.6 0 1 0 -5.2 0M403.59 125.63a2.6 2.6 0 1 0 5.2 0a2.6 2.6 0 1 0 -5.2 0M405.9 124a2.6 2.6 0 1 0 5.2 0a2.6 2.6 0 1 0 -5.2 0M408.02 122.5a2.6 2.6 0 1 0 5.2 0a2.6 2.6 0 1 0 -5.2 0M410.61 120.66a2.6 2.6 0 1 0 5.2 0a2.6 2.6 0 1 0 -5.2 0M412.73 119.16a2.6 2.6 0 1 0 5.2 0a2.6 2.6 0 1 0 -5.2 0M415.06 117.51a2.6 2.6 0 1 0 5.2 0a2.6 2.6 0 1 0 -5.2 0M417.44 115.83a2.6 2.6 0 1 0 5.2 0a2.6 2.6 0 1 0 -5.2 0M419.77 114.17a2.6 2.6 0 1 0 5.2 0a2.6 2.6 0 1 0 -5.2 0M421.71 112.8a2.6 2.6 0 1 0 5.2 0a2.6 2.6 0 1 0 -5.2 0M423.88 111.26a2.6 2.6 0 1 0 5.2 0a2.6 2.6 0 1 0 -5.2 0M425.91 109.82a2.6 2.6 0 1 0 5.2 0a2.6 2.6 0 1 0 -5.2 0M428.17 108.22a2.6 2.6 0 1 0 5.2 0a2.6 2.6 0 1 0 -5.2 0M430.34 106.68a2.6 2.6 0 1 0 5.2 0a2.6 2.6 0 1 0 -5.2 0M432.65 105.05a2.6 2.6 0 1 0 5.2 0a2.6 2.6 0 1 0 -5.2 0M434.77 103.55a2.6 2.6 0 1 0 5.2 0a2.6 2.6 0 1 0 -5.2 0M437.36 101.71a2.6 2.6 0 1 0 5.2 0a2.6 2.6 0 1 0 -5.2 0M439.48 100.21a2.6 2.6 0 1 0 5.2 0a2.6 2.6 0 1 0 -5.2 0M441.81 98.56a2.6 2.6 0 1 0 5.2 0a2.6 2.6 0 1 0 -5.2 0M444.19 96.88a2.6 2.6 0 1 0 5.2 0a2.6 2.6 0 1 0 -5.2 0M446.52 95.22a2.6 2.6 0 1 0 5.2 0a2.6 2.6 0 1 0 -5.2 0M448.46 93.85a2.6 2.6 0 1 0 5.2 0a2.6 2.6 0 1 0 -5.2 0M450.63 92.31a2.6 2.6 0 1 0 5.2 0a2.6 2.6 0 1 0 -5.2 0M452.66 90.87a2.6 2.6 0 1 0 5.2 0a2.6 2.6 0 1 0 -5.2 0M454.92 89.27a2.6 2.6 0 1 0 5.2 0a2.6 2.6 0 1 0 -5.2 0M457.09 87.73a2.6 2.6 0 1 0 5.2 0a2.6 2.6 0 1 0 -5.2 0M459.4 86.1a2.6 2.6 0 1 0 5.2 0a2.6 2.6 0 1 0 -5.2 0M461.52 84.6a2.6 2.6 0 1 0 5.2 0a2.6 2.6 0 1 0 -5.2 0M464.11 82.76a2.6 2.6 0 1 0 5.2 0a2.6 2.6 0 1 0 -5.2 0M466.23 81.26a2.6 2.6 0 1 0 5.2 0a2.6 2.6 0 1 0 -5.2 0M468.56 79.61a2.6 2.6 0 1 0 5.2 0a2.6 2.6 0 1 0 -5.2 0M470.94 77.93a2.6 2.6 0 1 0 5.2 0a2.6 2.6 0 1 0 -5.2 0M473.27 76.27a2.6 2.6 0 1 0 5.2 0a2.6 2.6 0 1 0 -5.2 0M475.21 74.9a2.6 2.6 0 1 0 5.2 0a2.6 2.6 0 1 0 -5.2 0M477.38 73.36a2.6 2.6 0 1 0 5.2 0a2.6 2.6 0 1 0 -5.2 0M479.41 70.03a2.6 2.6 0 1 0 5.2 0a2.6 2.6 0 1 0 -5.2 0M481.67 68.43a2.6 2.6 0 1 0 5.2 0a2.6 2.6 0 1 0 -5.2 0M483.84 66.89a2.6 2.6 0 1 0 5.2 0a2.6 2.6 0 1 0 -5.2 0M486.15 65.26a2.6 2.6 0 1 0 5.2 0a2.6 2.6 0 1 0 -5.2 0M488.27 63.75a2.6 2.6 0 1 0 5.2 0a2.6 2.6 0 1 0 -5.2 0M490.86 61.92a2.6 2.6 0 1 0 5.2 0a2.6 2.6 0 1 0 -5.2 0M492.98 60.42a2.6 2.6 0 1 0 5.2 0a2.6 2.6 0 1 0 -5.2 0M495.31 58.77a2.6 2.6 0 1 0 5.2 0a2.6 2.6 0 1 0 -5.2 0M497.69 57.08a2.6 2.6 0 1 0 5.2 0a2.6 2.6 0 1 0 -5.2 0M500.02 55.43a2.6 2.6 0 1 0 5.2 0a2.6 2.6 0 1 0 -5.2 0M501.96 54.05a2.6 2.6 0 1 0 5.2 0a2.6 2.6 0 1 0 -5.2 0M504.13 52.52a2.6 2.6 0 1 0 5.2 0a2.6 2.6 0 1 0 -5.2 0M506.16 51.08a2.6 2.6 0 1 0 5.2 0a2.6 2.6 0 1 0 -5.2 0M508.42 49.48a2.6 2.6 0 1 0 5.2 0a2.6 2.6 0 1 0 -5.2 0M510.59 47.94a2.6 2.6 0 1 0 5.2 0a2.6 2.6 0 1 0 -5.2 0M512.9 48.2a2.6 2.6 0 1 0 5.2 0a2.6 2.6 0 1 0 -5.2 0" fill="none" stroke="#00f" stroke-width="1.5"/>
<path d="M377.54 141.48h3.8v3.8h-3.8ZM379.85 139.85h3.8v3.8h-3.8ZM381.97 138.35h3.8v3.8h-3.8ZM384.56 136.51h3.8v3.8h-3.8ZM386.68 135.01h3.8v3.8h-3.8ZM389.01 133.36h3.8v3.8h-3.8ZM391.39 131.68h3.8v3.8h-3.8ZM393.72 130.02h3.8v3.8h-3.8ZM395.66 128.65h3.8v3.8h-3.8ZM397.83 127.11h3.8v3.8h-3.8ZM399.86 125.67h3.8v3.8h-3.8ZM402.12 124.07h3.8v3.8h-3.8ZM404.29 122.53h3.8v3.8h-3.8ZM406.6 120.9h3.8v3.8h-3.8ZM408.72 119.4h3.8v3.8h-3.8ZM411.31 117.56h3.8v3.8h-3.8ZM413.43 116.06h3.8v3.8h-3.8ZM415.76 114.41h3.8v3.8h-3.8ZM418.14 112.73h3.8v3.8h-3.8ZM420.47 111.07h3.8v3.8h-3.8ZM422.41 109.7h3.8v3.8h-3.8ZM424.58 108.16h3.8v3.8h-3.8ZM426.61 106.72h3.8v3.8h-3.8ZM428.87 105.12h3.8v3.8h-3.8ZM431.04 103.58h3.8v3.8h-3.8ZM433.35 101.95h3.8v3.8h-3.8ZM435.47 100.45h3.8v3.8h-3.8ZM438.06 98.61h3.8v3.8h-3.8ZM440.18 97.11h3.8v3.8h-3.8ZM442.51 95.46h3.8v3.8h-3.8ZM444.89 93.78h3.8v3.8h-3.8ZM447.22 92.12h3.8v3.8h-3.8ZM449.16 90.75h3.8v3.8h-3.8ZM451.33 89.21h3.8v3.8h-3.8ZM453.36 87.77h3.8v3.8h-3.8ZM455.62 86.17h3.8v3.8h-3.8ZM457.79 84.63h3.8v3.8h-3.8ZM460.1 83h3.8v3.8h-3.8ZM462.22 81.5h3.8v3.8h-3.8ZM464.81 79.66h3.8v3.8h-3.8ZM466.93 78.16h3.8v3.8h-3.8ZM469.26 76.51h3.8v3.8h-3.8ZM471.64 74.83h3.8v3.8h-3.8ZM473.97 73.17h3.8v3.8h-3.8ZM475.91 71.8h3.8v3.8h-3.8ZM478.08 70.26h3.8v3.8h-3.8ZM480.11 68.82h3.8v3.8h-3.8ZM482.37 67.22h3.8v3.8h-3.8ZM484.54 65.68h3.8v3.8h-3.8ZM486.85 64.05h3.8v3.8h-3.8ZM488.97 62.55h3.8v3.8h-3.8ZM491.56 63.31h3.8v3.8h-3.8ZM493.68 61.81h3.8v3.8h-3.8ZM496.01 60.16h3.8v3.8h-3.8ZM498.39 58.48h3.8v3.8h-3.8ZM500.72 56.82h3.8v3.8h-3.8ZM502.66 55.45h3.8v3.8h-3.8ZM504.83 53.91h3.8v3.8h-3.8ZM506.86 52.47h3.8v3.8h-3.8Z" fill="none" stroke="#000" stroke-width="1.5"/>
<path d="M380.45 118.75l2.16 3l-2.16 3l-2.16 -3ZM382.62 121.57l2.16 3l-2.16 3l-2.16 -3ZM383.45 118.79l2.16 3l-2.16 3l-2.16 -3ZM385.64 121.17l2.16 3l-2.16 3l-2.16 -3ZM386.76 118.4l2.16 3l-2.16 3l-2.16 -3ZM388.95 121.27l2.16 3l-2.16 3l-2.16 -3ZM390.55 117.86l2.16 3l-2.16 3l-2.16 -3ZM391.5 121.14l2.16 3l-2.16 3l-2.16 -3ZM393.73 117.78l2.16 3l-2.16 3l-2.16 -3ZM394.51 120.03l2.16 3l-2.16 3l-2.16 -3ZM396.45 116.94l2.16 3l-2.16 3l-2.16 -3ZM398.36 120.31l2.16 3l-2.16 3l-2.16 -3ZM399.18 116.4l2.16 3l-2.16 3l-2.16 -3ZM401.5 119.37l2.16 3l-2.16 3l-2.16 -3ZM403.08 115.71l2.16 3l-2.16 3l-2.16 -3ZM403.84 118.1l2.16 3l-2.16 3l-2.16 -3ZM406.21 114.7l2.16 3l-2.16 3l-2.16 -3ZM407.25 117.27l2.16 3l-2.16 3l-2.16 -3ZM408.91 113.81l2.16 3l-2.16 3l-2.16 -3ZM411.08 115.81l2.16 3l-2.16 3l-2.16 -3Z" fill="none" stroke="#f0f" stroke-width="1.3"/>
<path d="M430.77 104.13l2.45 3.4l-2.45 3.4l-2.45 -3.4ZM432.94 103.72l2.45 3.4l-2.45 3.4l-2.45 -3.4ZM435.25 102.01l2.45 3.4l-2.45 3.4l-2.45 -3.4ZM437.37 100.63l2.45 3.4l-2.45 3.4l-2.45 -3.4ZM439.96 98.13l2.45 3.4l-2.45 3.4l-2.45 -3.4ZM442.08 97.25l2.45 3.4l-2.45 3.4l-2.45 -3.4ZM444.41 95.57l2.45 3.4l-2.45 3.4l-2.45 -3.4ZM446.79 93.04l2.45 3.4l-2.45 3.4l-2.45 -3.4ZM449.12 92.02l2.45 3.4l-2.45 3.4l-2.45 -3.4ZM451.06 90.75l2.45 3.4l-2.45 3.4l-2.45 -3.4ZM453.23 89.01l2.45 3.4l-2.45 3.4l-2.45 -3.4ZM455.26 87.39l2.45 3.4l-2.45 3.4l-2.45 -3.4ZM457.52 85.52l2.45 3.4l-2.45 3.4l-2.45 -3.4ZM459.69 84.04l2.45 3.4l-2.45 3.4l-2.45 -3.4ZM462 82.27l2.45 3.4l-2.45 3.4l-2.45 -3.4ZM464.12 80.58l2.45 3.4l-2.45 3.4l-2.45 -3.4ZM466.71 79.37l2.45 3.4l-2.45 3.4l-2.45 -3.4ZM468.83 77.51l2.45 3.4l-2.45 3.4l-2.45 -3.4ZM471.16 76.48l2.45 3.4l-2.45 3.4l-2.45 -3.4ZM473.54 73.88l2.45 3.4l-2.45 3.4l-2.45 -3.4ZM475.87 73.26l2.45 3.4l-2.45 3.4l-2.45 -3.4ZM477.81 71.63l2.45 3.4l-2.45 3.4l-2.45 -3.4ZM479.98 70.37l2.45 3.4l-2.45 3.4l-2.45 -3.4ZM482.01 68.9l2.45 3.4l-2.45 3.4l-2.45 -3.4ZM484.27 67.3l2.45 3.4l-2.45 3.4l-2.45 -3.4ZM486.44 65.38l2.45 3.4l-2.45 3.4l-2.45 -3.4ZM488.75 64.17l2.45 3.4l-2.45 3.4l-2.45 -3.4ZM490.87 63.54l2.45 3.4l-2.45 3.4l-2.45 -3.4ZM493.46 61.02l2.45 3.4l-2.45 3.4l-2.45 -3.4ZM495.58 59.67l2.45 3.4l-2.45 3.4l-2.45 -3.4ZM497.91 58.46l2.45 3.4l-2.45 3.4l-2.45 -3.4ZM500.29 56.61l2.45 3.4l-2.45 3.4l-2.45 -3.4ZM502.62 54.82l2.45 3.4l-2.45 3.4l-2.45 -3.4ZM504.56 54.08l2.45 3.4l-2.45 3.4l-2.45 -3.4ZM506.73 52.15l2.45 3.4l-2.45 3.4l-2.45 -3.4ZM508.76 50.38l2.45 3.4l-2.45 3.4l-2.45 -3.4ZM511.02 48.68l2.45 3.4l-2.45 3.4l-2.45 -3.4Z" fill="none" stroke="#f0f" stroke-width="1.4"/>
<line x1="336.3" y1="175.4" x2="515.5" y2="48.4" stroke="#0f0" stroke-width="2" stroke-dasharray="5.5,2.5"/>
<line x1="347.6" y1="61.5" x2="353.6" y2="61.5" stroke="#0f0" stroke-width="2"/>
<line x1="355.5" y1="61.5" x2="361.7" y2="61.5" stroke="#0f0" stroke-width="2"/>
<text x="367.2" y="66.2" font-size="12" textLength="98.3" lengthAdjust="spacingAndGlyphs"><tspan font-style="italic">C</tspan><tspan font-size="8.8" dy="3.2">nominal</tspan><tspan dy="-3.2"> and Eq. (4)</tspan></text>
<rect x="51.4" y="240.5" width="179.2" height="22.09" fill="#b2b2b2"/>
<rect x="51.4" y="262.59" width="179.2" height="9.51" fill="#cfcfcf"/>
<rect x="51.4" y="272.1" width="179.2" height="9.51" fill="#e5e5e5"/>
<line x1="51.4" y1="240.5" x2="51.4" y2="368.1" stroke="#000" stroke-width="1.5"/>
<line x1="51.4" y1="366.9" x2="55.7" y2="366.9" stroke="#000" stroke-width="1.3"/>
<line x1="51.4" y1="357.39" x2="53.7" y2="357.39" stroke="#000" stroke-width="1.3"/>
<line x1="51.4" y1="351.82" x2="53.7" y2="351.82" stroke="#000" stroke-width="1.3"/>
<line x1="51.4" y1="347.87" x2="53.7" y2="347.87" stroke="#000" stroke-width="1.3"/>
<line x1="51.4" y1="344.81" x2="53.7" y2="344.81" stroke="#000" stroke-width="1.3"/>
<line x1="51.4" y1="342.31" x2="53.7" y2="342.31" stroke="#000" stroke-width="1.3"/>
<line x1="51.4" y1="340.19" x2="53.7" y2="340.19" stroke="#000" stroke-width="1.3"/>
<line x1="51.4" y1="338.36" x2="53.7" y2="338.36" stroke="#000" stroke-width="1.3"/>
<line x1="51.4" y1="336.75" x2="53.7" y2="336.75" stroke="#000" stroke-width="1.3"/>
<line x1="51.4" y1="335.3" x2="55.7" y2="335.3" stroke="#000" stroke-width="1.3"/>
<line x1="51.4" y1="325.79" x2="53.7" y2="325.79" stroke="#000" stroke-width="1.3"/>
<line x1="51.4" y1="320.22" x2="53.7" y2="320.22" stroke="#000" stroke-width="1.3"/>
<line x1="51.4" y1="316.27" x2="53.7" y2="316.27" stroke="#000" stroke-width="1.3"/>
<line x1="51.4" y1="313.21" x2="53.7" y2="313.21" stroke="#000" stroke-width="1.3"/>
<line x1="51.4" y1="310.71" x2="53.7" y2="310.71" stroke="#000" stroke-width="1.3"/>
<line x1="51.4" y1="308.59" x2="53.7" y2="308.59" stroke="#000" stroke-width="1.3"/>
<line x1="51.4" y1="306.76" x2="53.7" y2="306.76" stroke="#000" stroke-width="1.3"/>
<line x1="51.4" y1="305.15" x2="53.7" y2="305.15" stroke="#000" stroke-width="1.3"/>
<line x1="51.4" y1="303.7" x2="55.7" y2="303.7" stroke="#000" stroke-width="1.3"/>
<line x1="51.4" y1="294.19" x2="53.7" y2="294.19" stroke="#000" stroke-width="1.3"/>
<line x1="51.4" y1="288.62" x2="53.7" y2="288.62" stroke="#000" stroke-width="1.3"/>
<line x1="51.4" y1="284.67" x2="53.7" y2="284.67" stroke="#000" stroke-width="1.3"/>
<line x1="51.4" y1="281.61" x2="53.7" y2="281.61" stroke="#000" stroke-width="1.3"/>
<line x1="51.4" y1="279.11" x2="53.7" y2="279.11" stroke="#000" stroke-width="1.3"/>
<line x1="51.4" y1="276.99" x2="53.7" y2="276.99" stroke="#000" stroke-width="1.3"/>
<line x1="51.4" y1="275.16" x2="53.7" y2="275.16" stroke="#000" stroke-width="1.3"/>
<line x1="51.4" y1="273.55" x2="53.7" y2="273.55" stroke="#000" stroke-width="1.3"/>
<line x1="51.4" y1="272.1" x2="55.7" y2="272.1" stroke="#000" stroke-width="1.3"/>
<line x1="51.4" y1="262.59" x2="53.7" y2="262.59" stroke="#000" stroke-width="1.3"/>
<line x1="51.4" y1="257.02" x2="53.7" y2="257.02" stroke="#000" stroke-width="1.3"/>
<line x1="51.4" y1="253.07" x2="53.7" y2="253.07" stroke="#000" stroke-width="1.3"/>
<line x1="51.4" y1="250.01" x2="53.7" y2="250.01" stroke="#000" stroke-width="1.3"/>
<line x1="51.4" y1="247.51" x2="53.7" y2="247.51" stroke="#000" stroke-width="1.3"/>
<line x1="51.4" y1="245.39" x2="53.7" y2="245.39" stroke="#000" stroke-width="1.3"/>
<line x1="51.4" y1="243.56" x2="53.7" y2="243.56" stroke="#000" stroke-width="1.3"/>
<line x1="51.4" y1="241.95" x2="53.7" y2="241.95" stroke="#000" stroke-width="1.3"/>
<line x1="51.4" y1="240.5" x2="55.7" y2="240.5" stroke="#000" stroke-width="1.3"/>
<text x="47.5" y="372.4" font-size="12.3" text-anchor="end">10<tspan font-size="9.35" dy="-5.6">−4</tspan></text>
<text x="47.5" y="340.8" font-size="12.3" text-anchor="end">10<tspan font-size="9.35" dy="-5.6">−3</tspan></text>
<text x="47.5" y="309.2" font-size="12.3" text-anchor="end">10<tspan font-size="9.35" dy="-5.6">−2</tspan></text>
<text x="47.5" y="277.6" font-size="12.3" text-anchor="end">10<tspan font-size="9.35" dy="-5.6">−1</tspan></text>
<text x="47.5" y="246" font-size="12.3" text-anchor="end">10<tspan font-size="9.35" dy="-5.6">0</tspan></text>
<line x1="50.8" y1="367.5" x2="230.6" y2="367.5" stroke="#000" stroke-width="1.5"/>
<line x1="55.73" y1="367.5" x2="55.73" y2="365.2" stroke="#000" stroke-width="1.3"/>
<line x1="59.1" y1="367.5" x2="59.1" y2="365.2" stroke="#000" stroke-width="1.3"/>
<line x1="61.7" y1="367.5" x2="61.7" y2="365.2" stroke="#000" stroke-width="1.3"/>
<line x1="63.83" y1="367.5" x2="63.83" y2="365.2" stroke="#000" stroke-width="1.3"/>
<line x1="65.63" y1="367.5" x2="65.63" y2="365.2" stroke="#000" stroke-width="1.3"/>
<line x1="67.19" y1="367.5" x2="67.19" y2="365.2" stroke="#000" stroke-width="1.3"/>
<line x1="68.57" y1="367.5" x2="68.57" y2="365.2" stroke="#000" stroke-width="1.3"/>
<line x1="69.8" y1="367.5" x2="69.8" y2="363.2" stroke="#000" stroke-width="1.3"/>
<line x1="77.9" y1="367.5" x2="77.9" y2="365.2" stroke="#000" stroke-width="1.3"/>
<line x1="82.63" y1="367.5" x2="82.63" y2="365.2" stroke="#000" stroke-width="1.3"/>
<line x1="86" y1="367.5" x2="86" y2="365.2" stroke="#000" stroke-width="1.3"/>
<line x1="88.6" y1="367.5" x2="88.6" y2="365.2" stroke="#000" stroke-width="1.3"/>
<line x1="90.73" y1="367.5" x2="90.73" y2="365.2" stroke="#000" stroke-width="1.3"/>
<line x1="92.53" y1="367.5" x2="92.53" y2="365.2" stroke="#000" stroke-width="1.3"/>
<line x1="94.09" y1="367.5" x2="94.09" y2="365.2" stroke="#000" stroke-width="1.3"/>
<line x1="95.47" y1="367.5" x2="95.47" y2="365.2" stroke="#000" stroke-width="1.3"/>
<line x1="96.7" y1="367.5" x2="96.7" y2="363.2" stroke="#000" stroke-width="1.3"/>
<line x1="104.8" y1="367.5" x2="104.8" y2="365.2" stroke="#000" stroke-width="1.3"/>
<line x1="109.53" y1="367.5" x2="109.53" y2="365.2" stroke="#000" stroke-width="1.3"/>
<line x1="112.9" y1="367.5" x2="112.9" y2="365.2" stroke="#000" stroke-width="1.3"/>
<line x1="115.5" y1="367.5" x2="115.5" y2="365.2" stroke="#000" stroke-width="1.3"/>
<line x1="117.63" y1="367.5" x2="117.63" y2="365.2" stroke="#000" stroke-width="1.3"/>
<line x1="119.43" y1="367.5" x2="119.43" y2="365.2" stroke="#000" stroke-width="1.3"/>
<line x1="120.99" y1="367.5" x2="120.99" y2="365.2" stroke="#000" stroke-width="1.3"/>
<line x1="122.37" y1="367.5" x2="122.37" y2="365.2" stroke="#000" stroke-width="1.3"/>
<line x1="123.6" y1="367.5" x2="123.6" y2="363.2" stroke="#000" stroke-width="1.3"/>
<line x1="131.7" y1="367.5" x2="131.7" y2="365.2" stroke="#000" stroke-width="1.3"/>
<line x1="136.43" y1="367.5" x2="136.43" y2="365.2" stroke="#000" stroke-width="1.3"/>
<line x1="139.8" y1="367.5" x2="139.8" y2="365.2" stroke="#000" stroke-width="1.3"/>
<line x1="142.4" y1="367.5" x2="142.4" y2="365.2" stroke="#000" stroke-width="1.3"/>
<line x1="144.53" y1="367.5" x2="144.53" y2="365.2" stroke="#000" stroke-width="1.3"/>
<line x1="146.33" y1="367.5" x2="146.33" y2="365.2" stroke="#000" stroke-width="1.3"/>
<line x1="147.89" y1="367.5" x2="147.89" y2="365.2" stroke="#000" stroke-width="1.3"/>
<line x1="149.27" y1="367.5" x2="149.27" y2="365.2" stroke="#000" stroke-width="1.3"/>
<line x1="150.5" y1="367.5" x2="150.5" y2="363.2" stroke="#000" stroke-width="1.3"/>
<line x1="158.6" y1="367.5" x2="158.6" y2="365.2" stroke="#000" stroke-width="1.3"/>
<line x1="163.33" y1="367.5" x2="163.33" y2="365.2" stroke="#000" stroke-width="1.3"/>
<line x1="166.7" y1="367.5" x2="166.7" y2="365.2" stroke="#000" stroke-width="1.3"/>
<line x1="169.3" y1="367.5" x2="169.3" y2="365.2" stroke="#000" stroke-width="1.3"/>
<line x1="171.43" y1="367.5" x2="171.43" y2="365.2" stroke="#000" stroke-width="1.3"/>
<line x1="173.23" y1="367.5" x2="173.23" y2="365.2" stroke="#000" stroke-width="1.3"/>
<line x1="174.79" y1="367.5" x2="174.79" y2="365.2" stroke="#000" stroke-width="1.3"/>
<line x1="176.17" y1="367.5" x2="176.17" y2="365.2" stroke="#000" stroke-width="1.3"/>
<line x1="177.4" y1="367.5" x2="177.4" y2="363.2" stroke="#000" stroke-width="1.3"/>
<line x1="185.5" y1="367.5" x2="185.5" y2="365.2" stroke="#000" stroke-width="1.3"/>
<line x1="190.23" y1="367.5" x2="190.23" y2="365.2" stroke="#000" stroke-width="1.3"/>
<line x1="193.6" y1="367.5" x2="193.6" y2="365.2" stroke="#000" stroke-width="1.3"/>
<line x1="196.2" y1="367.5" x2="196.2" y2="365.2" stroke="#000" stroke-width="1.3"/>
<line x1="198.33" y1="367.5" x2="198.33" y2="365.2" stroke="#000" stroke-width="1.3"/>
<line x1="200.13" y1="367.5" x2="200.13" y2="365.2" stroke="#000" stroke-width="1.3"/>
<line x1="201.69" y1="367.5" x2="201.69" y2="365.2" stroke="#000" stroke-width="1.3"/>
<line x1="203.07" y1="367.5" x2="203.07" y2="365.2" stroke="#000" stroke-width="1.3"/>
<line x1="204.3" y1="367.5" x2="204.3" y2="363.2" stroke="#000" stroke-width="1.3"/>
<line x1="212.4" y1="367.5" x2="212.4" y2="365.2" stroke="#000" stroke-width="1.3"/>
<line x1="217.13" y1="367.5" x2="217.13" y2="365.2" stroke="#000" stroke-width="1.3"/>
<line x1="220.5" y1="367.5" x2="220.5" y2="365.2" stroke="#000" stroke-width="1.3"/>
<line x1="223.1" y1="367.5" x2="223.1" y2="365.2" stroke="#000" stroke-width="1.3"/>
<line x1="225.23" y1="367.5" x2="225.23" y2="365.2" stroke="#000" stroke-width="1.3"/>
<line x1="227.03" y1="367.5" x2="227.03" y2="365.2" stroke="#000" stroke-width="1.3"/>
<line x1="228.59" y1="367.5" x2="228.59" y2="365.2" stroke="#000" stroke-width="1.3"/>
<line x1="229.97" y1="367.5" x2="229.97" y2="365.2" stroke="#000" stroke-width="1.3"/>
<text x="70.3" y="385.8" font-size="12.3" text-anchor="middle">10<tspan font-size="9.35" dy="-5.6">−13</tspan></text>
<text x="97.2" y="385.8" font-size="12.3" text-anchor="middle">10<tspan font-size="9.35" dy="-5.6">−12</tspan></text>
<text x="124.1" y="385.8" font-size="12.3" text-anchor="middle">10<tspan font-size="9.35" dy="-5.6">−11</tspan></text>
<text x="151" y="385.8" font-size="12.3" text-anchor="middle">10<tspan font-size="9.35" dy="-5.6">−10</tspan></text>
<text x="177.9" y="385.8" font-size="12.3" text-anchor="middle">10<tspan font-size="9.35" dy="-5.6">−9</tspan></text>
<text x="204.8" y="385.8" font-size="12.3" text-anchor="middle">10<tspan font-size="9.35" dy="-5.6">−8</tspan></text>
<text x="231.7" y="385.8" font-size="12.3" text-anchor="middle">10<tspan font-size="9.35" dy="-5.6">−7</tspan></text>
<text x="49.6" y="402.2" font-size="15" textLength="188.4" lengthAdjust="spacingAndGlyphs">Nominal capacitance value (F)</text>
<text x="125.6" y="422.3" font-size="15" textLength="15" lengthAdjust="spacingAndGlyphs">(c)</text>
<text transform="translate(20.2,365.5) rotate(-90)" font-size="15" textLength="123.2" lengthAdjust="spacingAndGlyphs">Relative accuracy, <tspan font-style="italic">a</tspan><tspan font-size="10" dy="2.8" font-style="italic">r</tspan></text>
<text x="232.6" y="245.9" font-size="12" textLength="8.4" lengthAdjust="spacingAndGlyphs"><tspan font-style="italic">a</tspan><tspan font-size="8" dy="2.5" font-style="italic">r</tspan></text>
<text x="234.6" y="257.8" font-size="9.6" textLength="26.6" lengthAdjust="spacingAndGlyphs">&gt; 20%</text>
<text x="234.6" y="271.3" font-size="9.6" textLength="26.4" lengthAdjust="spacingAndGlyphs">&lt; 20%</text>
<text x="234.6" y="281.4" font-size="9.6" textLength="26.4" lengthAdjust="spacingAndGlyphs">&lt; 10%</text>
<text x="234.6" y="296.2" font-size="9.6" textLength="21.3" lengthAdjust="spacingAndGlyphs">&lt; 5%</text>
<path d="M69.7 277.48L73.2 283.68L66.2 283.68ZM96.3 264.88L99.8 271.08L92.8 271.08ZM101.6 269.78L105.1 275.98L98.1 275.98ZM80.6 291.78L84.1 297.98L77.1 297.98ZM84.4 298.48L87.9 304.68L80.9 304.68ZM72.8 312.08L76.3 318.28L69.3 318.28ZM78.5 309.58L82 315.78L75 315.78ZM93.2 301.58L96.7 307.78L89.7 307.78ZM105.3 306.28L108.8 312.48L101.8 312.48ZM87.5 282.78L91 288.98L84 288.98ZM99 277.48L102.5 283.68L95.5 283.68ZM107 276.78L110.5 282.98L103.5 282.98ZM110 277.78L113.5 283.98L106.5 283.98ZM113 277.28L116.5 283.48L109.5 283.48ZM116 279.28L119.5 285.48L112.5 285.48ZM119.5 278.78L123 284.98L116 284.98ZM122.5 280.78L126 286.98L119 286.98ZM118 299.48L121.5 305.68L114.5 305.68ZM126.3 302.68L129.8 308.88L122.8 308.88ZM135.8 308.98L139.3 315.18L132.3 315.18ZM137.4 317.98L140.9 324.18L133.9 324.18ZM141 326.78L144.5 332.98L137.5 332.98ZM94.4 341.28L97.9 347.48L90.9 347.48ZM129.5 284.88L133 291.08L126 291.08ZM145.9 287.68L149.4 293.88L142.4 293.88ZM148.4 296.08L151.9 302.28L144.9 302.28ZM154.7 295.48L158.2 301.68L151.2 301.68ZM150.5 310.78L154 316.98L147 316.98ZM156.8 309.28L160.3 315.48L153.3 315.48ZM163.5 307.98L167 314.18L160 314.18ZM170.4 291.88L173.9 298.08L166.9 298.08ZM176.7 298.18L180.2 304.38L173.2 304.38ZM183 286.58L186.5 292.78L179.5 292.78ZM188.2 299.68L191.7 305.88L184.7 305.88ZM190.3 310.08L193.8 316.28L186.8 316.28ZM180.9 280.38L184.4 286.58L177.4 286.58ZM171.5 277.18L175 283.38L168 283.38ZM193.5 284.48L197 290.68L190 290.68ZM198.3 268.78L201.8 274.98L194.8 274.98ZM200.4 258.28L203.9 264.48L196.9 264.48ZM207.1 251.98L210.6 258.18L203.6 258.18ZM212.4 256.28L215.9 262.48L208.9 262.48ZM216.6 270.88L220.1 277.08L213.1 277.08ZM220.8 267.78L224.3 273.98L217.3 273.98ZM223.9 259.38L227.4 265.58L220.4 265.58ZM225 251.98L228.5 258.18L221.5 258.18ZM228.1 247.78L231.6 253.98L224.6 253.98ZM144.2 286.58L147.7 292.78L140.7 292.78ZM115.5 299.58L119 305.78L112 305.78ZM125.4 302.18L128.9 308.38L121.9 308.38ZM187.5 300.18L191 306.38L184 306.38ZM164 307.78L167.5 313.98L160.5 313.98ZM158.5 277.78L162 283.98L155 283.98ZM162.5 276.28L166 282.48L159 282.48ZM180.5 278.78L184 284.98L177 284.98ZM186.5 278.28L190 284.48L183 284.48Z" fill="none" stroke="#f00" stroke-width="1.6"/>
<path d="M66.8 294.9a2.9 2.9 0 1 0 5.8 0a2.9 2.9 0 1 0 -5.8 0M69.9 289.6a2.9 2.9 0 1 0 5.8 0a2.9 2.9 0 1 0 -5.8 0M74.8 287.5a2.9 2.9 0 1 0 5.8 0a2.9 2.9 0 1 0 -5.8 0M77.7 283.3a2.9 2.9 0 1 0 5.8 0a2.9 2.9 0 1 0 -5.8 0M81.1 277.7a2.9 2.9 0 1 0 5.8 0a2.9 2.9 0 1 0 -5.8 0M85.7 281.9a2.9 2.9 0 1 0 5.8 0a2.9 2.9 0 1 0 -5.8 0M88.2 293.8a2.9 2.9 0 1 0 5.8 0a2.9 2.9 0 1 0 -5.8 0M90.5 310.6a2.9 2.9 0 1 0 5.8 0a2.9 2.9 0 1 0 -5.8 0M93.6 281.2a2.9 2.9 0 1 0 5.8 0a2.9 2.9 0 1 0 -5.8 0M90.9 288.6a2.9 2.9 0 1 0 5.8 0a2.9 2.9 0 1 0 -5.8 0M95.1 289.6a2.9 2.9 0 1 0 5.8 0a2.9 2.9 0 1 0 -5.8 0M99.3 290.7a2.9 2.9 0 1 0 5.8 0a2.9 2.9 0 1 0 -5.8 0M102.4 286.5a2.9 2.9 0 1 0 5.8 0a2.9 2.9 0 1 0 -5.8 0M107.1 286.5a2.9 2.9 0 1 0 5.8 0a2.9 2.9 0 1 0 -5.8 0M100.8 292.8a2.9 2.9 0 1 0 5.8 0a2.9 2.9 0 1 0 -5.8 0M109.1 291.1a2.9 2.9 0 1 0 5.8 0a2.9 2.9 0 1 0 -5.8 0M110.8 298a2.9 2.9 0 1 0 5.8 0a2.9 2.9 0 1 0 -5.8 0M114.6 298a2.9 2.9 0 1 0 5.8 0a2.9 2.9 0 1 0 -5.8 0M117.6 300.1a2.9 2.9 0 1 0 5.8 0a2.9 2.9 0 1 0 -5.8 0M118.8 304.3a2.9 2.9 0 1 0 5.8 0a2.9 2.9 0 1 0 -5.8 0M122 302.8a2.9 2.9 0 1 0 5.8 0a2.9 2.9 0 1 0 -5.8 0M122.4 290.7a2.9 2.9 0 1 0 5.8 0a2.9 2.9 0 1 0 -5.8 0M124.5 289.6a2.9 2.9 0 1 0 5.8 0a2.9 2.9 0 1 0 -5.8 0M123.4 294.9a2.9 2.9 0 1 0 5.8 0a2.9 2.9 0 1 0 -5.8 0M125.5 293.8a2.9 2.9 0 1 0 5.8 0a2.9 2.9 0 1 0 -5.8 0M128 295.9a2.9 2.9 0 1 0 5.8 0a2.9 2.9 0 1 0 -5.8 0M129.7 282.3a2.9 2.9 0 1 0 5.8 0a2.9 2.9 0 1 0 -5.8 0M132.9 281.2a2.9 2.9 0 1 0 5.8 0a2.9 2.9 0 1 0 -5.8 0M135 293.8a2.9 2.9 0 1 0 5.8 0a2.9 2.9 0 1 0 -5.8 0M138.1 305.3a2.9 2.9 0 1 0 5.8 0a2.9 2.9 0 1 0 -5.8 0M141.3 274.9a2.9 2.9 0 1 0 5.8 0a2.9 2.9 0 1 0 -5.8 0M142.3 274a2.9 2.9 0 1 0 5.8 0a2.9 2.9 0 1 0 -5.8 0M145.1 275.2a2.9 2.9 0 1 0 5.8 0a2.9 2.9 0 1 0 -5.8 0M150.1 282a2.9 2.9 0 1 0 5.8 0a2.9 2.9 0 1 0 -5.8 0M151.8 290a2.9 2.9 0 1 0 5.8 0a2.9 2.9 0 1 0 -5.8 0M149.3 295a2.9 2.9 0 1 0 5.8 0a2.9 2.9 0 1 0 -5.8 0M146.5 306.1a2.9 2.9 0 1 0 5.8 0a2.9 2.9 0 1 0 -5.8 0M148.6 308.2a2.9 2.9 0 1 0 5.8 0a2.9 2.9 0 1 0 -5.8 0M154.3 307.1a2.9 2.9 0 1 0 5.8 0a2.9 2.9 0 1 0 -5.8 0M156.4 280.9a2.9 2.9 0 1 0 5.8 0a2.9 2.9 0 1 0 -5.8 0M161.9 276.1a2.9 2.9 0 1 0 5.8 0a2.9 2.9 0 1 0 -5.8 0M165.4 268.3a2.9 2.9 0 1 0 5.8 0a2.9 2.9 0 1 0 -5.8 0M168.6 269.8a2.9 2.9 0 1 0 5.8 0a2.9 2.9 0 1 0 -5.8 0M167.5 274a2.9 2.9 0 1 0 5.8 0a2.9 2.9 0 1 0 -5.8 0M173.8 278.2a2.9 2.9 0 1 0 5.8 0a2.9 2.9 0 1 0 -5.8 0M175.3 268.3a2.9 2.9 0 1 0 5.8 0a2.9 2.9 0 1 0 -5.8 0M178.6 271.5a2.9 2.9 0 1 0 5.8 0a2.9 2.9 0 1 0 -5.8 0M180.1 269.4a2.9 2.9 0 1 0 5.8 0a2.9 2.9 0 1 0 -5.8 0M182.8 266.9a2.9 2.9 0 1 0 5.8 0a2.9 2.9 0 1 0 -5.8 0M187.4 271.5a2.9 2.9 0 1 0 5.8 0a2.9 2.9 0 1 0 -5.8 0M184.9 277.3a2.9 2.9 0 1 0 5.8 0a2.9 2.9 0 1 0 -5.8 0M190.6 278.2a2.9 2.9 0 1 0 5.8 0a2.9 2.9 0 1 0 -5.8 0M192.7 277.3a2.9 2.9 0 1 0 5.8 0a2.9 2.9 0 1 0 -5.8 0M196.9 277.8a2.9 2.9 0 1 0 5.8 0a2.9 2.9 0 1 0 -5.8 0M200 282.4a2.9 2.9 0 1 0 5.8 0a2.9 2.9 0 1 0 -5.8 0M196.3 288.2a2.9 2.9 0 1 0 5.8 0a2.9 2.9 0 1 0 -5.8 0M205.3 263.1a2.9 2.9 0 1 0 5.8 0a2.9 2.9 0 1 0 -5.8 0M209.5 256.8a2.9 2.9 0 1 0 5.8 0a2.9 2.9 0 1 0 -5.8 0M213.7 253.6a2.9 2.9 0 1 0 5.8 0a2.9 2.9 0 1 0 -5.8 0M217.2 250.9a2.9 2.9 0 1 0 5.8 0a2.9 2.9 0 1 0 -5.8 0M220.6 259.3a2.9 2.9 0 1 0 5.8 0a2.9 2.9 0 1 0 -5.8 0M222.7 270.4a2.9 2.9 0 1 0 5.8 0a2.9 2.9 0 1 0 -5.8 0M227.3 285.8a2.9 2.9 0 1 0 5.8 0a2.9 2.9 0 1 0 -5.8 0" fill="none" stroke="#00f" stroke-width="1.6"/>
<rect x="336.3" y="241" width="178.7" height="18.51" fill="#b2b2b2"/>
<rect x="336.3" y="259.51" width="178.7" height="7.54" fill="#cfcfcf"/>
<rect x="336.3" y="267.05" width="178.7" height="7.54" fill="#e5e5e5"/>
<line x1="336.3" y1="242" x2="336.3" y2="368.1" stroke="#000" stroke-width="1.5"/>
<line x1="336.3" y1="359.71" x2="338.6" y2="359.71" stroke="#000" stroke-width="1.3"/>
<line x1="336.3" y1="355.3" x2="338.6" y2="355.3" stroke="#000" stroke-width="1.3"/>
<line x1="336.3" y1="352.17" x2="338.6" y2="352.17" stroke="#000" stroke-width="1.3"/>
<line x1="336.3" y1="349.74" x2="338.6" y2="349.74" stroke="#000" stroke-width="1.3"/>
<line x1="336.3" y1="347.76" x2="338.6" y2="347.76" stroke="#000" stroke-width="1.3"/>
<line x1="336.3" y1="346.08" x2="338.6" y2="346.08" stroke="#000" stroke-width="1.3"/>
<line x1="336.3" y1="344.63" x2="338.6" y2="344.63" stroke="#000" stroke-width="1.3"/>
<line x1="336.3" y1="343.35" x2="338.6" y2="343.35" stroke="#000" stroke-width="1.3"/>
<line x1="336.3" y1="342.2" x2="340.6" y2="342.2" stroke="#000" stroke-width="1.3"/>
<line x1="336.3" y1="334.66" x2="338.6" y2="334.66" stroke="#000" stroke-width="1.3"/>
<line x1="336.3" y1="330.25" x2="338.6" y2="330.25" stroke="#000" stroke-width="1.3"/>
<line x1="336.3" y1="327.12" x2="338.6" y2="327.12" stroke="#000" stroke-width="1.3"/>
<line x1="336.3" y1="324.69" x2="338.6" y2="324.69" stroke="#000" stroke-width="1.3"/>
<line x1="336.3" y1="322.71" x2="338.6" y2="322.71" stroke="#000" stroke-width="1.3"/>
<line x1="336.3" y1="321.03" x2="338.6" y2="321.03" stroke="#000" stroke-width="1.3"/>
<line x1="336.3" y1="319.58" x2="338.6" y2="319.58" stroke="#000" stroke-width="1.3"/>
<line x1="336.3" y1="318.3" x2="338.6" y2="318.3" stroke="#000" stroke-width="1.3"/>
<line x1="336.3" y1="317.15" x2="340.6" y2="317.15" stroke="#000" stroke-width="1.3"/>
<line x1="336.3" y1="309.61" x2="338.6" y2="309.61" stroke="#000" stroke-width="1.3"/>
<line x1="336.3" y1="305.2" x2="338.6" y2="305.2" stroke="#000" stroke-width="1.3"/>
<line x1="336.3" y1="302.07" x2="338.6" y2="302.07" stroke="#000" stroke-width="1.3"/>
<line x1="336.3" y1="299.64" x2="338.6" y2="299.64" stroke="#000" stroke-width="1.3"/>
<line x1="336.3" y1="297.66" x2="338.6" y2="297.66" stroke="#000" stroke-width="1.3"/>
<line x1="336.3" y1="295.98" x2="338.6" y2="295.98" stroke="#000" stroke-width="1.3"/>
<line x1="336.3" y1="294.53" x2="338.6" y2="294.53" stroke="#000" stroke-width="1.3"/>
<line x1="336.3" y1="293.25" x2="338.6" y2="293.25" stroke="#000" stroke-width="1.3"/>
<line x1="336.3" y1="292.1" x2="340.6" y2="292.1" stroke="#000" stroke-width="1.3"/>
<line x1="336.3" y1="284.56" x2="338.6" y2="284.56" stroke="#000" stroke-width="1.3"/>
<line x1="336.3" y1="280.15" x2="338.6" y2="280.15" stroke="#000" stroke-width="1.3"/>
<line x1="336.3" y1="277.02" x2="338.6" y2="277.02" stroke="#000" stroke-width="1.3"/>
<line x1="336.3" y1="274.59" x2="338.6" y2="274.59" stroke="#000" stroke-width="1.3"/>
<line x1="336.3" y1="272.61" x2="338.6" y2="272.61" stroke="#000" stroke-width="1.3"/>
<line x1="336.3" y1="270.93" x2="338.6" y2="270.93" stroke="#000" stroke-width="1.3"/>
<line x1="336.3" y1="269.48" x2="338.6" y2="269.48" stroke="#000" stroke-width="1.3"/>
<line x1="336.3" y1="268.2" x2="338.6" y2="268.2" stroke="#000" stroke-width="1.3"/>
<line x1="336.3" y1="267.05" x2="340.6" y2="267.05" stroke="#000" stroke-width="1.3"/>
<line x1="336.3" y1="259.51" x2="338.6" y2="259.51" stroke="#000" stroke-width="1.3"/>
<line x1="336.3" y1="255.1" x2="338.6" y2="255.1" stroke="#000" stroke-width="1.3"/>
<line x1="336.3" y1="251.97" x2="338.6" y2="251.97" stroke="#000" stroke-width="1.3"/>
<line x1="336.3" y1="249.54" x2="338.6" y2="249.54" stroke="#000" stroke-width="1.3"/>
<line x1="336.3" y1="247.56" x2="338.6" y2="247.56" stroke="#000" stroke-width="1.3"/>
<line x1="336.3" y1="245.88" x2="338.6" y2="245.88" stroke="#000" stroke-width="1.3"/>
<line x1="336.3" y1="244.43" x2="338.6" y2="244.43" stroke="#000" stroke-width="1.3"/>
<line x1="336.3" y1="243.15" x2="338.6" y2="243.15" stroke="#000" stroke-width="1.3"/>
<line x1="336.3" y1="242" x2="340.6" y2="242" stroke="#000" stroke-width="1.3"/>
<text x="334.5" y="372.75" font-size="12.3" text-anchor="end">10<tspan font-size="9.35" dy="-5.6">−5</tspan></text>
<text x="334.5" y="347.7" font-size="12.3" text-anchor="end">10<tspan font-size="9.35" dy="-5.6">−4</tspan></text>
<text x="334.5" y="322.65" font-size="12.3" text-anchor="end">10<tspan font-size="9.35" dy="-5.6">−3</tspan></text>
<text x="334.5" y="297.6" font-size="12.3" text-anchor="end">10<tspan font-size="9.35" dy="-5.6">−2</tspan></text>
<text x="334.5" y="272.55" font-size="12.3" text-anchor="end">10<tspan font-size="9.35" dy="-5.6">−1</tspan></text>
<text x="334.5" y="247.5" font-size="12.3" text-anchor="end">10<tspan font-size="9.35" dy="-5.6">0</tspan></text>
<line x1="335.7" y1="367.5" x2="515" y2="367.5" stroke="#000" stroke-width="1.5"/>
<line x1="341.01" y1="367.5" x2="341.01" y2="365.2" stroke="#000" stroke-width="1.3"/>
<line x1="344.36" y1="367.5" x2="344.36" y2="365.2" stroke="#000" stroke-width="1.3"/>
<line x1="346.95" y1="367.5" x2="346.95" y2="365.2" stroke="#000" stroke-width="1.3"/>
<line x1="349.07" y1="367.5" x2="349.07" y2="365.2" stroke="#000" stroke-width="1.3"/>
<line x1="350.86" y1="367.5" x2="350.86" y2="365.2" stroke="#000" stroke-width="1.3"/>
<line x1="352.41" y1="367.5" x2="352.41" y2="365.2" stroke="#000" stroke-width="1.3"/>
<line x1="353.78" y1="367.5" x2="353.78" y2="365.2" stroke="#000" stroke-width="1.3"/>
<line x1="355" y1="367.5" x2="355" y2="363.2" stroke="#000" stroke-width="1.3"/>
<line x1="363.05" y1="367.5" x2="363.05" y2="365.2" stroke="#000" stroke-width="1.3"/>
<line x1="367.76" y1="367.5" x2="367.76" y2="365.2" stroke="#000" stroke-width="1.3"/>
<line x1="371.11" y1="367.5" x2="371.11" y2="365.2" stroke="#000" stroke-width="1.3"/>
<line x1="373.7" y1="367.5" x2="373.7" y2="365.2" stroke="#000" stroke-width="1.3"/>
<line x1="375.82" y1="367.5" x2="375.82" y2="365.2" stroke="#000" stroke-width="1.3"/>
<line x1="377.61" y1="367.5" x2="377.61" y2="365.2" stroke="#000" stroke-width="1.3"/>
<line x1="379.16" y1="367.5" x2="379.16" y2="365.2" stroke="#000" stroke-width="1.3"/>
<line x1="380.53" y1="367.5" x2="380.53" y2="365.2" stroke="#000" stroke-width="1.3"/>
<line x1="381.75" y1="367.5" x2="381.75" y2="363.2" stroke="#000" stroke-width="1.3"/>
<line x1="389.8" y1="367.5" x2="389.8" y2="365.2" stroke="#000" stroke-width="1.3"/>
<line x1="394.51" y1="367.5" x2="394.51" y2="365.2" stroke="#000" stroke-width="1.3"/>
<line x1="397.86" y1="367.5" x2="397.86" y2="365.2" stroke="#000" stroke-width="1.3"/>
<line x1="400.45" y1="367.5" x2="400.45" y2="365.2" stroke="#000" stroke-width="1.3"/>
<line x1="402.57" y1="367.5" x2="402.57" y2="365.2" stroke="#000" stroke-width="1.3"/>
<line x1="404.36" y1="367.5" x2="404.36" y2="365.2" stroke="#000" stroke-width="1.3"/>
<line x1="405.91" y1="367.5" x2="405.91" y2="365.2" stroke="#000" stroke-width="1.3"/>
<line x1="407.28" y1="367.5" x2="407.28" y2="365.2" stroke="#000" stroke-width="1.3"/>
<line x1="408.5" y1="367.5" x2="408.5" y2="363.2" stroke="#000" stroke-width="1.3"/>
<line x1="416.55" y1="367.5" x2="416.55" y2="365.2" stroke="#000" stroke-width="1.3"/>
<line x1="421.26" y1="367.5" x2="421.26" y2="365.2" stroke="#000" stroke-width="1.3"/>
<line x1="424.61" y1="367.5" x2="424.61" y2="365.2" stroke="#000" stroke-width="1.3"/>
<line x1="427.2" y1="367.5" x2="427.2" y2="365.2" stroke="#000" stroke-width="1.3"/>
<line x1="429.32" y1="367.5" x2="429.32" y2="365.2" stroke="#000" stroke-width="1.3"/>
<line x1="431.11" y1="367.5" x2="431.11" y2="365.2" stroke="#000" stroke-width="1.3"/>
<line x1="432.66" y1="367.5" x2="432.66" y2="365.2" stroke="#000" stroke-width="1.3"/>
<line x1="434.03" y1="367.5" x2="434.03" y2="365.2" stroke="#000" stroke-width="1.3"/>
<line x1="435.25" y1="367.5" x2="435.25" y2="363.2" stroke="#000" stroke-width="1.3"/>
<line x1="443.3" y1="367.5" x2="443.3" y2="365.2" stroke="#000" stroke-width="1.3"/>
<line x1="448.01" y1="367.5" x2="448.01" y2="365.2" stroke="#000" stroke-width="1.3"/>
<line x1="451.36" y1="367.5" x2="451.36" y2="365.2" stroke="#000" stroke-width="1.3"/>
<line x1="453.95" y1="367.5" x2="453.95" y2="365.2" stroke="#000" stroke-width="1.3"/>
<line x1="456.07" y1="367.5" x2="456.07" y2="365.2" stroke="#000" stroke-width="1.3"/>
<line x1="457.86" y1="367.5" x2="457.86" y2="365.2" stroke="#000" stroke-width="1.3"/>
<line x1="459.41" y1="367.5" x2="459.41" y2="365.2" stroke="#000" stroke-width="1.3"/>
<line x1="460.78" y1="367.5" x2="460.78" y2="365.2" stroke="#000" stroke-width="1.3"/>
<line x1="462" y1="367.5" x2="462" y2="363.2" stroke="#000" stroke-width="1.3"/>
<line x1="470.05" y1="367.5" x2="470.05" y2="365.2" stroke="#000" stroke-width="1.3"/>
<line x1="474.76" y1="367.5" x2="474.76" y2="365.2" stroke="#000" stroke-width="1.3"/>
<line x1="478.11" y1="367.5" x2="478.11" y2="365.2" stroke="#000" stroke-width="1.3"/>
<line x1="480.7" y1="367.5" x2="480.7" y2="365.2" stroke="#000" stroke-width="1.3"/>
<line x1="482.82" y1="367.5" x2="482.82" y2="365.2" stroke="#000" stroke-width="1.3"/>
<line x1="484.61" y1="367.5" x2="484.61" y2="365.2" stroke="#000" stroke-width="1.3"/>
<line x1="486.16" y1="367.5" x2="486.16" y2="365.2" stroke="#000" stroke-width="1.3"/>
<line x1="487.53" y1="367.5" x2="487.53" y2="365.2" stroke="#000" stroke-width="1.3"/>
<line x1="488.75" y1="367.5" x2="488.75" y2="363.2" stroke="#000" stroke-width="1.3"/>
<line x1="496.8" y1="367.5" x2="496.8" y2="365.2" stroke="#000" stroke-width="1.3"/>
<line x1="501.51" y1="367.5" x2="501.51" y2="365.2" stroke="#000" stroke-width="1.3"/>
<line x1="504.86" y1="367.5" x2="504.86" y2="365.2" stroke="#000" stroke-width="1.3"/>
<line x1="507.45" y1="367.5" x2="507.45" y2="365.2" stroke="#000" stroke-width="1.3"/>
<line x1="509.57" y1="367.5" x2="509.57" y2="365.2" stroke="#000" stroke-width="1.3"/>
<line x1="511.36" y1="367.5" x2="511.36" y2="365.2" stroke="#000" stroke-width="1.3"/>
<line x1="512.91" y1="367.5" x2="512.91" y2="365.2" stroke="#000" stroke-width="1.3"/>
<line x1="514.28" y1="367.5" x2="514.28" y2="365.2" stroke="#000" stroke-width="1.3"/>
<text x="355.5" y="385.8" font-size="12.3" text-anchor="middle">10<tspan font-size="9.35" dy="-5.6">−13</tspan></text>
<text x="382.25" y="385.8" font-size="12.3" text-anchor="middle">10<tspan font-size="9.35" dy="-5.6">−12</tspan></text>
<text x="409" y="385.8" font-size="12.3" text-anchor="middle">10<tspan font-size="9.35" dy="-5.6">−11</tspan></text>
<text x="435.75" y="385.8" font-size="12.3" text-anchor="middle">10<tspan font-size="9.35" dy="-5.6">−10</tspan></text>
<text x="462.5" y="385.8" font-size="12.3" text-anchor="middle">10<tspan font-size="9.35" dy="-5.6">−9</tspan></text>
<text x="489.25" y="385.8" font-size="12.3" text-anchor="middle">10<tspan font-size="9.35" dy="-5.6">−8</tspan></text>
<text x="516" y="385.8" font-size="12.3" text-anchor="middle">10<tspan font-size="9.35" dy="-5.6">−7</tspan></text>
<text x="333.2" y="399.8" font-size="15" textLength="188.4" lengthAdjust="spacingAndGlyphs">Nominal capacitance value (F)</text>
<text x="416.2" y="420.6" font-size="15" textLength="17" lengthAdjust="spacingAndGlyphs">(d)</text>
<text transform="translate(290.1,371) rotate(-90)" font-size="15" textLength="130.7" lengthAdjust="spacingAndGlyphs">Relative precision, <tspan font-style="italic">p</tspan><tspan font-size="10" dy="2.8" font-style="italic">r</tspan><tspan dy="-2.8">,</tspan></text>
<text transform="translate(306.8,362) rotate(-90)" font-size="15" textLength="115.6" lengthAdjust="spacingAndGlyphs">and uncertainty, <tspan font-style="italic">u</tspan><tspan font-size="10" dy="2.8" font-style="italic">r</tspan></text>
<text x="343.3" y="253.4" font-size="13.3" textLength="116" lengthAdjust="spacingAndGlyphs"><tspan font-style="italic">u</tspan><tspan font-size="8.5" dy="2.5" font-style="italic">r</tspan><tspan dy="-2.5">(C</tspan><tspan font-size="9.5" dy="2.5">LOAD</tspan><tspan dy="-2.5">) and Eq. (16)</tspan></text>
<text x="517.9" y="245.6" font-size="12" textLength="9" lengthAdjust="spacingAndGlyphs"><tspan font-style="italic">p</tspan><tspan font-size="8" dy="2.5" font-style="italic">r</tspan></text>
<text x="520.2" y="255.6" font-size="9.6" textLength="26.2" lengthAdjust="spacingAndGlyphs">&gt; 20%</text>
<text x="520.2" y="266.7" font-size="9.6" textLength="26" lengthAdjust="spacingAndGlyphs">&lt; 20%</text>
<text x="520.2" y="276" font-size="9.6" textLength="26" lengthAdjust="spacingAndGlyphs">&lt; 10%</text>
<text x="520.2" y="291.8" font-size="9.6" textLength="21" lengthAdjust="spacingAndGlyphs">&lt; 5%</text>
<path d="M347.6 273.48L351.1 279.68L344.1 279.68ZM355.2 274.08L358.7 280.28L351.7 280.28ZM357.5 274.08L361 280.28L354 280.28ZM362.7 276.48L366.2 282.68L359.2 282.68ZM371.5 289.28L375 295.48L368 295.48ZM374.4 291.58L377.9 297.78L370.9 297.78ZM374.7 302.38L378.2 308.58L371.2 308.58ZM382.1 300.28L385.6 306.48L378.6 306.48ZM384.2 313.98L387.7 320.18L380.7 320.18ZM396.7 312.88L400.2 319.08L393.2 319.08ZM400.9 319.18L404.4 325.38L397.4 325.38ZM415.7 334.48L419.2 340.68L412.2 340.68ZM418.9 334.98L422.4 341.18L415.4 341.18ZM421 333.48L424.5 339.68L417.5 339.68ZM415.6 331.78L419.1 337.98L412.1 337.98ZM420.9 333.88L424.4 340.08L417.4 340.08ZM423 328.68L426.5 334.88L419.5 334.88ZM429.4 326.18L432.9 332.38L425.9 332.38ZM435.7 325.08L439.2 331.28L432.2 331.28ZM448.2 313.58L451.7 319.78L444.7 319.78ZM458.7 305.18L462.2 311.38L455.2 311.38ZM462.9 298.88L466.4 305.08L459.4 305.08ZM469.2 295.68L472.7 301.88L465.7 301.88ZM475.5 290.48L479 296.68L472 296.68ZM482.6 281.08L486.1 287.28L479.1 287.28ZM489.2 273.68L492.7 279.88L485.7 279.88ZM498.1 273.68L501.6 279.88L494.6 279.88ZM503.8 267.98L507.3 274.18L500.3 274.18ZM508.7 260.68L512.2 266.88L505.2 266.88ZM515.3 263.08L518.8 269.28L511.8 269.28ZM390 308.28L393.5 314.48L386.5 314.48ZM410 326.28L413.5 332.48L406.5 332.48ZM442 318.28L445.5 324.48L438.5 324.48ZM453 309.28L456.5 315.48L449.5 315.48ZM396.12 317.25L399.62 323.45L392.62 323.45ZM408.66 325.52L412.16 331.72L405.16 331.72ZM415.01 333.06L418.51 339.26L411.51 339.26ZM420.21 333.25L423.71 339.45L416.71 339.45ZM439.45 321.19L442.95 327.39L435.95 327.39ZM451.69 315.79L455.19 321.99L448.19 321.99ZM456.13 309.29L459.63 315.49L452.63 315.49ZM459.56 309.63L463.06 315.83L456.06 315.83ZM462.77 303.53L466.27 309.73L459.27 309.73ZM477.39 290.39L480.89 296.59L473.89 296.59ZM485.24 284.13L488.74 290.33L481.74 290.33ZM414 333.28L417.5 339.48L410.5 339.48ZM417 335.78L420.5 341.98L413.5 341.98ZM420 334.28L423.5 340.48L416.5 340.48ZM423 335.28L426.5 341.48L419.5 341.48Z" fill="none" stroke="#f00" stroke-width="1.6"/>
<path d="M344.7 281.3a2.9 2.9 0 1 0 5.8 0a2.9 2.9 0 1 0 -5.8 0M351.7 281.9a2.9 2.9 0 1 0 5.8 0a2.9 2.9 0 1 0 -5.8 0M353.4 286a2.9 2.9 0 1 0 5.8 0a2.9 2.9 0 1 0 -5.8 0M359.8 287.7a2.9 2.9 0 1 0 5.8 0a2.9 2.9 0 1 0 -5.8 0M362.2 288.9a2.9 2.9 0 1 0 5.8 0a2.9 2.9 0 1 0 -5.8 0M365.1 296.5a2.9 2.9 0 1 0 5.8 0a2.9 2.9 0 1 0 -5.8 0M369.1 301.7a2.9 2.9 0 1 0 5.8 0a2.9 2.9 0 1 0 -5.8 0M372.1 305.8a2.9 2.9 0 1 0 5.8 0a2.9 2.9 0 1 0 -5.8 0M378.5 302.3a2.9 2.9 0 1 0 5.8 0a2.9 2.9 0 1 0 -5.8 0M375 308.1a2.9 2.9 0 1 0 5.8 0a2.9 2.9 0 1 0 -5.8 0M379.1 310.5a2.9 2.9 0 1 0 5.8 0a2.9 2.9 0 1 0 -5.8 0M381.7 314.5a2.9 2.9 0 1 0 5.8 0a2.9 2.9 0 1 0 -5.8 0M386.5 316.6a2.9 2.9 0 1 0 5.8 0a2.9 2.9 0 1 0 -5.8 0M391.7 319.8a2.9 2.9 0 1 0 5.8 0a2.9 2.9 0 1 0 -5.8 0M397 325a2.9 2.9 0 1 0 5.8 0a2.9 2.9 0 1 0 -5.8 0M398 329.2a2.9 2.9 0 1 0 5.8 0a2.9 2.9 0 1 0 -5.8 0M402.2 332.4a2.9 2.9 0 1 0 5.8 0a2.9 2.9 0 1 0 -5.8 0M405.4 339.3a2.9 2.9 0 1 0 5.8 0a2.9 2.9 0 1 0 -5.8 0M408.5 331.3a2.9 2.9 0 1 0 5.8 0a2.9 2.9 0 1 0 -5.8 0M402.3 334a2.9 2.9 0 1 0 5.8 0a2.9 2.9 0 1 0 -5.8 0M411.8 351.3a2.9 2.9 0 1 0 5.8 0a2.9 2.9 0 1 0 -5.8 0M414.9 351.3a2.9 2.9 0 1 0 5.8 0a2.9 2.9 0 1 0 -5.8 0M418.1 352.1a2.9 2.9 0 1 0 5.8 0a2.9 2.9 0 1 0 -5.8 0M419.1 346.2a2.9 2.9 0 1 0 5.8 0a2.9 2.9 0 1 0 -5.8 0M422.3 335.7a2.9 2.9 0 1 0 5.8 0a2.9 2.9 0 1 0 -5.8 0M427.5 338.7a2.9 2.9 0 1 0 5.8 0a2.9 2.9 0 1 0 -5.8 0M429.6 336.6a2.9 2.9 0 1 0 5.8 0a2.9 2.9 0 1 0 -5.8 0M432.8 332a2.9 2.9 0 1 0 5.8 0a2.9 2.9 0 1 0 -5.8 0M434.9 319.4a2.9 2.9 0 1 0 5.8 0a2.9 2.9 0 1 0 -5.8 0M437 328.8a2.9 2.9 0 1 0 5.8 0a2.9 2.9 0 1 0 -5.8 0M441.2 323.6a2.9 2.9 0 1 0 5.8 0a2.9 2.9 0 1 0 -5.8 0M449.5 319.4a2.9 2.9 0 1 0 5.8 0a2.9 2.9 0 1 0 -5.8 0M453.7 315.2a2.9 2.9 0 1 0 5.8 0a2.9 2.9 0 1 0 -5.8 0M457.9 308.9a2.9 2.9 0 1 0 5.8 0a2.9 2.9 0 1 0 -5.8 0M463.2 306.8a2.9 2.9 0 1 0 5.8 0a2.9 2.9 0 1 0 -5.8 0M468.4 301.5a2.9 2.9 0 1 0 5.8 0a2.9 2.9 0 1 0 -5.8 0M472.6 297.3a2.9 2.9 0 1 0 5.8 0a2.9 2.9 0 1 0 -5.8 0M477.9 293.1a2.9 2.9 0 1 0 5.8 0a2.9 2.9 0 1 0 -5.8 0M481.4 289.6a2.9 2.9 0 1 0 5.8 0a2.9 2.9 0 1 0 -5.8 0M485.4 283.9a2.9 2.9 0 1 0 5.8 0a2.9 2.9 0 1 0 -5.8 0M490.3 275a2.9 2.9 0 1 0 5.8 0a2.9 2.9 0 1 0 -5.8 0M494.4 273.3a2.9 2.9 0 1 0 5.8 0a2.9 2.9 0 1 0 -5.8 0M499 267.6a2.9 2.9 0 1 0 5.8 0a2.9 2.9 0 1 0 -5.8 0M502.6 263.5a2.9 2.9 0 1 0 5.8 0a2.9 2.9 0 1 0 -5.8 0M505.5 266a2.9 2.9 0 1 0 5.8 0a2.9 2.9 0 1 0 -5.8 0M507.5 269.3a2.9 2.9 0 1 0 5.8 0a2.9 2.9 0 1 0 -5.8 0M512 254.9a2.9 2.9 0 1 0 5.8 0a2.9 2.9 0 1 0 -5.8 0M421.1 335.1a2.9 2.9 0 1 0 5.8 0a2.9 2.9 0 1 0 -5.8 0M445.1 321a2.9 2.9 0 1 0 5.8 0a2.9 2.9 0 1 0 -5.8 0M460.1 309a2.9 2.9 0 1 0 5.8 0a2.9 2.9 0 1 0 -5.8 0M466.1 303a2.9 2.9 0 1 0 5.8 0a2.9 2.9 0 1 0 -5.8 0M344.35 280.66a2.9 2.9 0 1 0 5.8 0a2.9 2.9 0 1 0 -5.8 0M347.98 281.56a2.9 2.9 0 1 0 5.8 0a2.9 2.9 0 1 0 -5.8 0M349.16 281.25a2.9 2.9 0 1 0 5.8 0a2.9 2.9 0 1 0 -5.8 0M353.4 284.34a2.9 2.9 0 1 0 5.8 0a2.9 2.9 0 1 0 -5.8 0M356.04 283.17a2.9 2.9 0 1 0 5.8 0a2.9 2.9 0 1 0 -5.8 0M359.25 283.86a2.9 2.9 0 1 0 5.8 0a2.9 2.9 0 1 0 -5.8 0M361.66 292.33a2.9 2.9 0 1 0 5.8 0a2.9 2.9 0 1 0 -5.8 0M364.42 296.31a2.9 2.9 0 1 0 5.8 0a2.9 2.9 0 1 0 -5.8 0M368.33 297.21a2.9 2.9 0 1 0 5.8 0a2.9 2.9 0 1 0 -5.8 0M371.84 301.44a2.9 2.9 0 1 0 5.8 0a2.9 2.9 0 1 0 -5.8 0M375.06 307.35a2.9 2.9 0 1 0 5.8 0a2.9 2.9 0 1 0 -5.8 0M378.02 308.46a2.9 2.9 0 1 0 5.8 0a2.9 2.9 0 1 0 -5.8 0M379.51 312.69a2.9 2.9 0 1 0 5.8 0a2.9 2.9 0 1 0 -5.8 0M384.03 314.73a2.9 2.9 0 1 0 5.8 0a2.9 2.9 0 1 0 -5.8 0M385.82 313.78a2.9 2.9 0 1 0 5.8 0a2.9 2.9 0 1 0 -5.8 0M388.23 316.93a2.9 2.9 0 1 0 5.8 0a2.9 2.9 0 1 0 -5.8 0M391.11 321.28a2.9 2.9 0 1 0 5.8 0a2.9 2.9 0 1 0 -5.8 0M395.06 322.39a2.9 2.9 0 1 0 5.8 0a2.9 2.9 0 1 0 -5.8 0M398.51 324.05a2.9 2.9 0 1 0 5.8 0a2.9 2.9 0 1 0 -5.8 0M400.15 330.1a2.9 2.9 0 1 0 5.8 0a2.9 2.9 0 1 0 -5.8 0M403.14 333.27a2.9 2.9 0 1 0 5.8 0a2.9 2.9 0 1 0 -5.8 0M406.19 332.74a2.9 2.9 0 1 0 5.8 0a2.9 2.9 0 1 0 -5.8 0M421.32 337.38a2.9 2.9 0 1 0 5.8 0a2.9 2.9 0 1 0 -5.8 0M425.82 332.96a2.9 2.9 0 1 0 5.8 0a2.9 2.9 0 1 0 -5.8 0M427.28 332.58a2.9 2.9 0 1 0 5.8 0a2.9 2.9 0 1 0 -5.8 0M432.74 330.41a2.9 2.9 0 1 0 5.8 0a2.9 2.9 0 1 0 -5.8 0M435.79 326.57a2.9 2.9 0 1 0 5.8 0a2.9 2.9 0 1 0 -5.8 0M438.8 324.58a2.9 2.9 0 1 0 5.8 0a2.9 2.9 0 1 0 -5.8 0M442.62 319.39a2.9 2.9 0 1 0 5.8 0a2.9 2.9 0 1 0 -5.8 0M447.17 318.59a2.9 2.9 0 1 0 5.8 0a2.9 2.9 0 1 0 -5.8 0M450.81 315.33a2.9 2.9 0 1 0 5.8 0a2.9 2.9 0 1 0 -5.8 0M454.69 313.84a2.9 2.9 0 1 0 5.8 0a2.9 2.9 0 1 0 -5.8 0M458.76 310.72a2.9 2.9 0 1 0 5.8 0a2.9 2.9 0 1 0 -5.8 0M462.99 305.7a2.9 2.9 0 1 0 5.8 0a2.9 2.9 0 1 0 -5.8 0M467.1 304.55a2.9 2.9 0 1 0 5.8 0a2.9 2.9 0 1 0 -5.8 0M469.81 299.15a2.9 2.9 0 1 0 5.8 0a2.9 2.9 0 1 0 -5.8 0M473.66 294.48a2.9 2.9 0 1 0 5.8 0a2.9 2.9 0 1 0 -5.8 0M478.48 293.62a2.9 2.9 0 1 0 5.8 0a2.9 2.9 0 1 0 -5.8 0M481.3 286.81a2.9 2.9 0 1 0 5.8 0a2.9 2.9 0 1 0 -5.8 0M485.83 282.64a2.9 2.9 0 1 0 5.8 0a2.9 2.9 0 1 0 -5.8 0M489.45 280.28a2.9 2.9 0 1 0 5.8 0a2.9 2.9 0 1 0 -5.8 0M493.22 275.5a2.9 2.9 0 1 0 5.8 0a2.9 2.9 0 1 0 -5.8 0" fill="none" stroke="#00f" stroke-width="1.6"/>
<polyline points="336,265.5 338,267 348.5,277.2 359,287.1 369.5,297.2 380,306.8 390.4,315 400.9,321.9 408.4,326.1 416.8,327.8 425.2,326.1 433.6,321.5 442,316.2 452.4,309 464.3,299.9 473.7,291.5 483,283.1 492.4,272.8 498.9,265.2 503,257.8 505.5,248 507.1,241.5 508.5,241.5 509.8,248 512,259.5 514.4,265.2" fill="none" stroke="#000" stroke-width="2.2" stroke-dasharray="5,2.5" stroke-linejoin="round"/>
<line x1="332.8" y1="263.6" x2="338.2" y2="267.6" stroke="#000" stroke-width="3.2" stroke-linecap="round"/>
</svg>
</body></html>
